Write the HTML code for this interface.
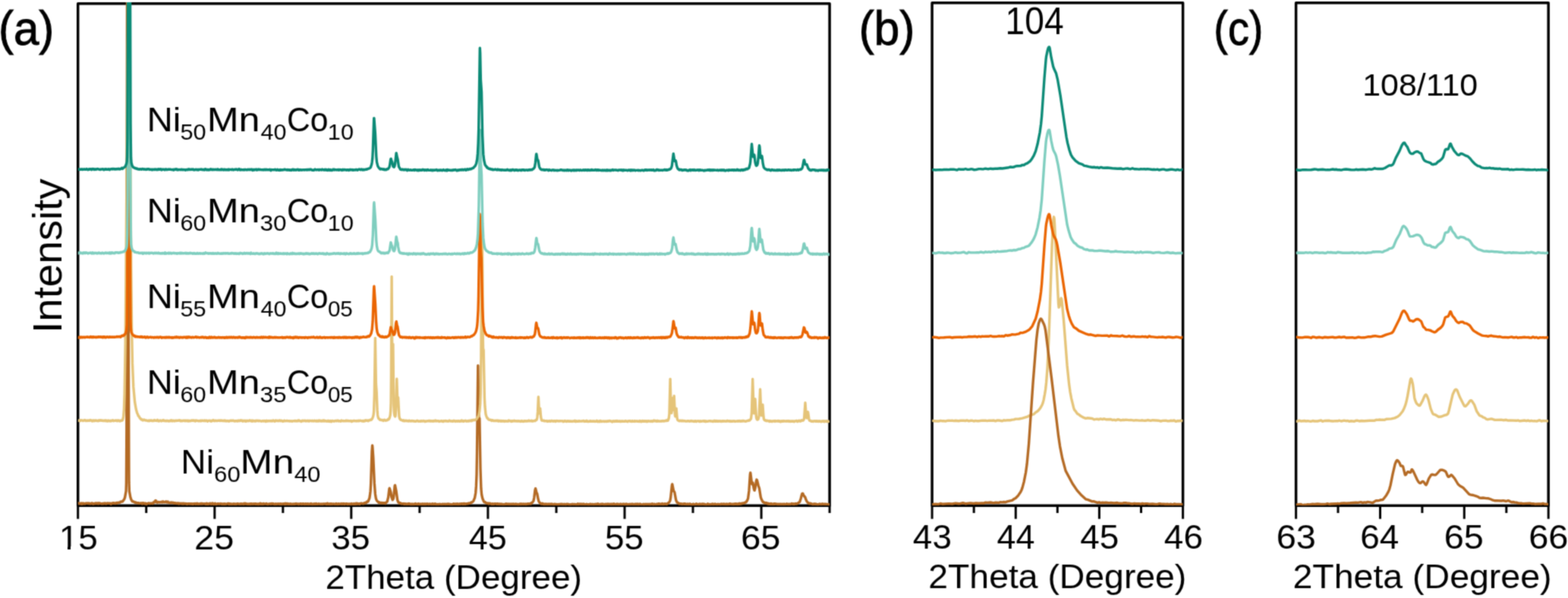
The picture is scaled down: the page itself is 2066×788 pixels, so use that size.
<!DOCTYPE html>
<html><head><meta charset="utf-8"><title>XRD patterns</title>
<style>
html,body{margin:0;padding:0;background:#fff;}
body{width:2066px;height:788px;overflow:hidden;}
svg{display:block;}
text{font-family:"Liberation Sans",Arial,sans-serif;fill:#000;}
</style></head><body>
<svg width="2066" height="788" viewBox="0 0 2066 788">
<defs><filter id="soft" x="0" y="0" width="2066" height="788" filterUnits="userSpaceOnUse" color-interpolation-filters="sRGB"><feConvolveMatrix order="5" kernelMatrix="0.00003 0.00101 0.00331 0.00101 0.00003 0.00101 0.03529 0.11525 0.03529 0.00101 0.00331 0.11525 0.37636 0.11525 0.00331 0.00101 0.03529 0.11525 0.03529 0.00101 0.00003 0.00101 0.00331 0.00101 0.00003" edgeMode="duplicate"/></filter></defs>
<g filter="url(#soft)">
<rect width="2066" height="788" fill="#fff"/>
<defs>
<clipPath id="ca"><rect x="102.7" y="3.1" width="990.4" height="663.2"/></clipPath>
<clipPath id="cb"><rect x="1228.1" y="2.2" width="330.5" height="664.1"/></clipPath>
<clipPath id="cc"><rect x="1707.6" y="2.2" width="332.6" height="664.1"/></clipPath>
</defs>
<g fill="none" stroke="#000" stroke-width="3.5" stroke-linejoin="round"><rect x="102.7" y="4.7" width="990.4" height="661.6"/><rect x="1228.1" y="3.8" width="330.5" height="662.5"/><rect x="1707.6" y="3.8" width="332.6" height="662.5"/></g>
<path fill="none" stroke="#000" stroke-width="3" d="M102.7 666.3V683.8M192.7 666.3V675.9M282.8 666.3V683.8M372.8 666.3V675.9M462.8 666.3V683.8M552.9 666.3V675.9M642.9 666.3V683.8M733.0 666.3V675.9M823.0 666.3V683.8M913.0 666.3V675.9M1003.1 666.3V683.8M1093.1 666.3V675.9M1228.1 666.3V683.8M1707.6 666.3V683.8M1283.2 666.3V675.9M1763.0 666.3V675.9M1338.3 666.3V683.8M1818.5 666.3V683.8M1393.3 666.3V675.9M1873.9 666.3V675.9M1448.4 666.3V683.8M1929.3 666.3V683.8M1503.5 666.3V675.9M1984.8 666.3V675.9M1558.6 666.3V683.8M2040.2 666.3V683.8"/>
<g clip-path="url(#ca)" fill="none" stroke-width="3.4" stroke-linejoin="round">
<path stroke="#b46a24" d="M102.7 663.3l.5 .1 .2-.3 .4 .2 .2-.2 .3 .7 .2-.2 .4 .2 .1-.3 .6-.1 .7 .5 .9-.8 .7 1.1 .7-1 .8 .2 .3-.1 .4 .4 .3-.2 1.7 .3 .9-.7 .5 .2 1.4-.1 .2-.2 .7 .3 .2 .3 .4-.2 .3 .2 .4-.5 .2 .2 .5-.1 .2 .3 .7 .4 .7-.1 1.1-.8 .4 .4 .3-.3 .4 .3 .4-.1 .3 .7 .6 .1 .7-.2 .5-.5 .9 .3 .9-.7 .6 .4 .1-.1 .2 .2 .2-.3 .7 .4 .4-.5 .5 .2 .2 .3 .4-.4 .3 .2 .2-.3 .6 .6 .1-.4 .2 .2 .7-.5 .8 .4 .9 0 .3 .4 .6 .1 .3-.2 .9 .2 .2-.4 .5-.2 .4 .4 .9-.4 .7 .3 .4-.1 .3-.6 .9 .8 .9 0 .9-.8 .8 .5 .7-.3 .5 .3 .6-.3 .9 .5 .7-.3 .7 .8 .9-.9 .9 .3 .7-.6 .2 .3 .5 0 .8-.4 1.6 .8 .2-.4 .9 0 .5-.7 .7 .7 .7-.8 .4 .2 .9-.4 1.1 .2 .5-.3 .4 .1 .9-1.1 .3 .4 .9-.5 .4 .1 .2-.3 .2 .2 .7-.2 2-2.7 1-2.7 1.5-8.3 .3-10.8 .4-69.4 .7-582.2 1.3 0 .7 511.1 .4 120.8 .1 19.3 .4 11.3 1.3 7.2 1.2 4 1.5 2.3 .5 .2 .5-.2 1.7 1.1 .7-.2 .5 .9 .4 .1 .5-.5 1.1 .8 .7-.3 .4 .3 .4-.1 .1 .2 .6-.2 .2 .3 .1-.3 .8 .7 .9-.3 .7 .2 .2-.3 .5 .2 .2-.4 .5 .2 .7 .8 .6-1 .2 .1 .3-.3 .4 .5 .3-.1 .2 .4 1.3 .2 .7-.6 1.3 1.1 .5-.3 .4-.4 .7 .3 1.6-.8 .9 .2 .7 .5 1.5-.7 .5 .4 .5-.1 .4 .3 .7-.5 .7 .3 .4-1.4 .7 .2 .4-.6 .3 0 .2-.6 .4-.1 .3-.9 .6-.5 .3 .1 .2 2.2 .9-.2 .7 .6 .9-.9 .9 .7 .9-.4 .8 .1 .1 .2 .6-.3 .5 .3 .6-.1 .3-.6 .4 .5 .3-.3 .2 .5 1.1-1 .7 .8 1.1-.2 .2 .3 .2-.2 1 .1 .2-.5 .2 .2 .5-.6 .8 1.2 .7 0 .2-.3 .5-.2 .2-.4 .9 1.3 .9-.3 1.1 .7 .3 0 .9-.8 .6 0 .7 .6 .7-.1 .2-.3 .4 .3 .3-.2 1.3 1 .3-.5 .4 .3 .4-.3 .1 .6 .9-.5 1.1 .6 .6-.1 .3-.5 .6 0 .9 .9 .7-.4 .2-.3 .1 .4 .6 0 .2 .3 .1-.3 1.1 .1 .6-.3 .9 .8 .3-.1 .6-.7 1 .7 .6-.8 .3 0 .8 .7 1.2-.4 .6 .4 .1-.2 .8 .1 .7 .6 1.1-.7 .5 .2 .9-.1 .2 .2 .3-.4 .6 0 .7 .5 .4-.3 .1 .2 .2-.3 .4 .2 .3-.2 .9 .6 .8-.5 .5 .5 .9-.6 .4 .2 .3-.3 .6 .2 .5-.4 .4 .2 .3 .7 .7-.6 .6 .3 .5-.6 .9 .7 .2-.3 .4 .4 .3-.2 .9 .2 .7-.3 .4 .2 .9-.7 .7 .6 .6 0 .1-.4 .6 .4 .2-.5 .1 .3 .6-.1 .2 .2 2.3-.3 .2 .3 1.1 .4 .9-.9 .3 .8 .6 0 .3-.6 .6 .3 .1-.2 .6 .6 1.1-.8 .5 .5 .4-.1 .5-.7 .9 1 .6 .1 .5-.9 .4 .1 .1-.3 .4 .5 .4-.6 .9 1.2 .3 .2 .9-.8 .4 .3 .7-.8 .9 1.2 .9-.3 .4 .2 .7-.5 .7 0 .4-.2 1.4 .6 1.6-.7 .9 .7 .9-.5 .7 .7 .4-.3 .7 .3 .6-.6 .3 .1 .6 .7 .3 .1 .6-.9 .9 .4 .3-.1 .4 .2 1.4-.6 .7 .3 .4-.5 .5-.1 .4 .6 .7 .6 .6-.9 .3-.1 .7 .7 .6-.3 .7 .5 .9-.3 .4 .2 1.4-.7 .9 .7 .9-.5 .5 0 .2 .5 .6 .2 .3-.5 .9-.2 .2-.2 .5 .4 1.1-.3 1.8 .6 .9-.5 .2 .4 .4-.1 .7-.5 .9 .5 .9-.3 .9 .2 .3 .3 .9-1 .8 .7 .3 0 .4-.6 .3 .3 .2-.3 .6 .5 .7 .2 .2-.2 .3 .3 .8-.3 .7 .4 .9-.3 .3 .4 .6-.2 .5-.5 .6 .9 .5-.2 .5-.6 .2 .2 .2-.4 .5 .1 .6 .5 .5-.3 .4 .2 .7-.2 .2-.3 .7 .5 .4-.1 .5-.5 .4 0 .3 .6 .6-.1 .1-.3 .4 .5 1.6-.4 .6 .6 .1-.1 .6 .4 .9-1.1 .2 .2 .3-.1 .2 .4 .7-.4 .2-.5 .9 1.1 .5-.6 .4 0 .5 .6 .6 .2 .5-.4 .2 .1 .5-.8 1.1 .6 .7-.2 1.5 .2 .5-.1 .2-.4 .5 .3 .4 .6 .5 .2 .6-.5 .7 .1 .7-.4 .6 .2 .9-.3 .3 .4 .4 0 1.1-.7 .5 .4 .2-.2 .2 .3 .3-.4 .7 .5 .4-.4 .4 .1 .3 .5 .7 .1 .6 .4 .2-.5 .7-.5 1.2 .6 .4-.3 .2 .3 1.4-.6 1.1 .4 .4-.2 .9 .4 .5-.7 .4 .4 .1-.3 .4 .4 .4-.1 .1 .3 .6-.4 .9 .3 1.1-.5 .1 .3 .8 0 .5-.4 .7 .9 .8-1.2 .7 1.1 1.2-.9 .4 .3 .2-.3 .9 .8 .7-.6 .4 .4 1 .3 .9-.8 1.3 .9 .2-.4 .3 .1 .6 .4 .9-.8 .7 .4 .7-.4 .6 .5 .5-.5 .9 .3 .9-.6 .7 .5 1.6-.2 .2 .3 .4-.2 .3 .5 .2-.3 .4 .6 .9-.8 .7 .1 .4-.4 .1 .1 .4-.1 .4 .7 .3 .1 .9-.5 .7-.2 .2 .3 .4-.3 .9 .5 .2-.3 .1 .2 .6 0 .5 .4 .7-.9 .9 .6 .2-.3 .4 0 .9 .3 1.1-.6 .9 1 .9-.6 .3 .1 .9-.4 .2 .5 .4-.3 .3 .1 .4-.5 .2 .3 .5 .2 .2 .5 .2-.2 .5 .4 .5-.5 .6 0 .2-.3 .1 .4 1.3-.7 .7 .9 .7-.3 .8-.8 1 .9 .9-.3 .6 .2 .9-.5 .7 .3 .9 .1 .5 .4 1.1-.6 .2 .3 .4 0 .1-.2 .8 0 .3 .5 .4-.5 .2 .1 .5-.3 1.8 .1 .9-.2 .6 .1 .7 .8 1.2-1.5 1.3 1.4 .2 0 1.2-.8 .9 1 .8-1 .1 .3 .6 .2 .3-.6 1.1 .8 1.5-.6 1.4 .5 .4-.2 .3 .2 .4-.1 .2 .2 1-.9 1.1 1 .7 .2 .4-.6 .2 .1 .3-.4 .4 .4 .9-.4 .5 .4 1.1-.4 .9-.1 .2-.2 .9 .9 .4-.6 .7 0 .3-.3 .4 .3 .2-.2 .7 .1 .5 .9 .8-.7 .5 .1 .9-.4 1.1 .1 .2 .4 .9 .1 .3 .4 .9-.8 .4 .2 .5-.1 .6 .4 .9-.5 .5 .5 .9-.8 1.3 .8 .9-.4 .1 .3 .6-.2 .3-.5 .9 .8 .8 .1 .9-1.3 .9 1 .7-.8 .7 .6 2-.2 .5 .6 .4-.1 .5-.7 1.3-.5 .2 .2 .3-.1 .9 .4 1.3 .1 .7-.6 .6 .3 .9-.9 .5 .1 .2-.2 .2 .3 .5 .1 .7-1 .4-.1 .2-.6 .1 .2 .8-.1 .5-.4 1.8-4.3 .5-2.9 .8-6.4 .5-8.5 1.4-43.8 .6-7.9 .3 2.7 .9 13.1 1.5 33.6 1.1 14.5 .9 5.6 .7 2.1 1.2 2 1.3 .8 .4 .8 .1-.2 .6 .2 .2-.3 .5 .7 .2-.3 .7 .2 .4 .5 .9-.4 .3 .3 .2-.2 .4 .2 .1-.3 .9 .6 .2-.4 .9 .1 .2-.3 1.3 .2 .7 .7 .9-1.4 .5 .1 .7-1.1 .4-.1 1.4-5.8 1.3-11.1 .4-.7 1.6 5.2 .9 6.2 1.4 3.9 .6-.6 .5-1.4 .5-2.8 1.3-13.5 .4-1 1.6 8 1.6 11.5 1.1 2.9 .7 .2 .9 1.4 .2-.5 .5 0 .2-.2 .7 .5 .2 .5 .7 .2 .2-.3 .2 .3 .5-.3 .2 .1 .4-.1 .9 .4 .7-.1 .2-.3 .3 .6 .4-.1 .2 .2 .3-.3 .4 .1 .5-.4 1.3 .8 .4-.3 .7-.2 .7 .1 .2 .2 .7-.7 .4 .3 .3-.2 .2 .2 .2-.3 .3 0 1.1 1.4 .6 0 1-.9 .9 .9 .4-.6 .2 .3 .3-.4 .8-.1 .5 .5 .2-.1 .3 .1 1.3-1.1 .7 .8 1.3-.1 .2 .4 .1-.2 .6 .1 .2-.6 .3 .4 .4-.4 .2 .3 .3-.6 1.1 .9 .4-.4 .1 .3 1.3-.5 .5 .4 .9-.2 .4 .6 .9-1 .2 .7 .9-.2 .7 .6 .9-1.1 .2 .5 .7 .4 .2-.4 .5 .4 .2-.4 .7-.5 .4 .2 .9-.1 .7 .8 .5 .1 .9-.8 .9 .4 .8-.3 1.2 .6 .4-.3 .2 .1 .5-.7 .4 0 1 .9 1.8-.9 .6 .9 .4 .1 .1-.4 .6-.2 .7 .9 1.1-.7 .9 .5 .3-.5 .8 .3 .5-.2 .5 .1 .4-.3 1.1 .4 .9-.1 .3 .3 .2-.4 .2 .2 .2-.4 1.2 .2 1.8-.4 .8 .7 .3 0 .6-.5 .5 .3 .7-.3 .4 .3 .7-.6 1.8 .5 .2-.3 .5 0 .7 .7 .9-.5 1.8 .6 .9-.5 .4-.4 .2 .1 .3-.4 .9 .6 .4-.1 .2-.3 .9 .5 .5-.4 .6-.1 .9 .5 .1-.3 .4 0 .2-.3 .9 .7 .3-.4 .8 0 .3 .3 .4-.5 .3 .4 .2-.4 .4 .2 .3-.3 .4 .3 1.3-.6 1.8 .7 .3-.5 .2 .2 .4-.4 .3 .2 .6-.4 .9 1.1 .7-.7 .9 .2 .9-.4 .9 .2 .9-.6 .2 .3 .1-.3 .2 .3 .6-.4 .7 .2 .7-.1 .7-.6 .2-.4 .4 .2 .1-.3 .4 .1 .5-.2 1.7-1.6 .5-.7 1.6-3.9 1.1-6.3 .7-9.1 .6-14.8 .5-29.4 1.3-114.6 1.1 64.5 .3 6.8 .4-1.7 .2 0 .1 3.6 1.1 62.7 .9 26.2 .7 7.7 .8 3.9 .7 2.4 1.6 3.6 .2 0 .5 .6 1.1-.2 1.3 1.6 .1-.1 .6 .2 .7-.4 1.4 .9 .2-.4 .4 .3 .3-.4 .2 .3 .2-.3 .7-.1 .2 .3 .7 .4 .4-.3 .9 .8 .7-.4 .2 .1 .3-.4 .2 .4 .4-.3 1.1 .5 1.6-.8 .9 .4 .9 0 .3 .3 .8 0 .1-.5 .4 0 .4 .1 .1 .5 .9-.5 .9 .7 .2-.3 .2 .1 .5-.5 1.1 .8 .4-.5 .7 .2 .5-.2 .9 .9 .9-.7 .8 .4 .9-.2 .5-.4 .7 .4 .6-.8 .5 .5 .7 0 .2-.4 .4 .3 .3-.1 .9 .4 .9-.4 .2 .3 .2-.2 .3 .3 .4-.1 .2 .4 1.1-.8 .2 .3 1-.1 .6 .3 .2-.3 .5 .2 .2-.3 .3 .2 .2-.2 .6 .4 1.2-.3 .9 .5 .2-.4 .2 .2 .5-.4 1.1 .7 .7-.5 .4 .1 .5 .8 .9-.5 .2 .2 .4-.4 .1 .2 .4-.7 .2 .3 .5 0 .2 .3 .9-.7 .5 .8 1.1-.5 .9 .1 .2-.2 .2 .3 .2-.3 .5 .5 1.4-.5 .2 .2 .2-.3 .7 .4 .2 .4 .2-.3 .2 .2 .5-.5 .2 .1 .7-.4 .9 .3 .5-.4 .2 .3 .7 0 1.7-.6 .1 .4 .4 .2 .2-.3 .2 .1 .5-1.1 .2 .3 .7-.4 1.8-2.2 .4-1.1 .7-3.7 1.2-9.9 .6-2.1 1.2 4.8 .9 1.9 1.5 7.8 .7 2.4 .9 1.4 .5 .6 .9 .5 .6 .9 .9-.3 .3 .4 .4-.5 .2-.1 .2 .2 .1-.3 .6 .7 .2-.1 .5 .5 .4-.2 .3 .5 .2-.3 .4 .4 .3-.5 .7-.5 1.1 .9 1.1-.7 .9 .7 .2-.4 .7 .1 .6-.5 .7 .5 1.1 .2 .3-.3 .2 .3 .2-.3 .5 .1 .2-.4 .2 .3 .7 .2 .4-.3 .5 .4 .2-.3 .2 .5 .1-.2 .2 .3 .9-.4 .4 .4 .5-.8 .6-.1 .3 .5 2.2-.1 .2 .3 .5-.1 .9 .4 .5-.6 .8 .4 .3-.4 .4 .3 .5-.1 .4-.6 .3 0 .9 .6 .9-.5 .2 .2 .2-.2 .5 .7 .2-.4 .2 .3 .5-.2 .2 .4 1.5-.7 .5 .6 1.1 .5 .9-1.1 1.2 .1 .4-.2 .9 .2 .2 .3 .5 0 .2 .4 .7 .1 .6-.5 .3 .4 .2-.1 .2 .4 1.4-1 1.1 .2 .4-.3 1 .6 .9-.5 .6 0 .7 .1 .4 .4 .5 .1 .5-.3 .2 .4 .4-.2 .3 .2 1.1-1.2 .9 1.2 1.1-1 .4 .5 .3-.2 .9 .2 .6-.5 .9 .6 1.4-.5 .5 .6 .9-.8 .6 .7 1.2-.1 .4 .3 .6-.1 1-.5 .6 .3 .5 0 .4 .3 .2-.1 .3 .3 .6-.4 .9 .5 .3-.6 1.1-.4 .2 .2 .3-.1 .9 .7 .6-.5 .7 .1 .5-.2 .9 .7 1.1-.6 .6 .3 .5 0 .4-.5 1.2 .4 .9-.6 .7 .5 .4-.6 .2 .2 .2-.3 .3 .5 1.5 .6 .3-.2 .2 .2 .4-.6 1.2 .2 .2-.4 .4 .4 .3-.1 .9-.6 .4 .4 .9 .1 .3 .6 .6-.5 .9 .6 .3-.5 1.1-.4 .9 .7 .6-.7 .3 .3 .2-.2 .5 .1 .2-.3 1.3 .7 .9-.5 .5 .2 .6-.2 1 .7 .4-.6 .2 .4 .3-.3 .4 .2 .2-.3 .3-.1 .9 .6 .9-1.1 .6 .6 .7 .3 .2-.2 .3 .3 .8 .1 1.4-.9 .4 .7 .5 .2 .7-.6 .7 .7 .8-.6 .5 .3 1.3-.6 .3 .5 .4-.1 .7 .4 1.8-.9 .9 .3 .4 .3 .3-.3 .6 .1 .3 .5 .6-.6 .3 0 .6 .5 .5-.7 .9 .9 .4-.5 .5 0 .4 .3 .5 .1 .9-.6 .9 .7 .9-.7 1.5 .2 .3-.3 .4 .2 .2-.3 .3 .6 .6 .2 .5-.4 .7 .3 .2-.3 .9 .2 .5-.5 .4 .3 .2-.2 .3 .4 .4-.2 .2 .3 .3-.3 .2 .3 .9-.7 .7 .8 .4-.4 .2 .2 .3-.2 .4 .5 1.1-.9 .3 .4 .8-.2 .9 .6 1.9-.2 .8-.4 .9 1 .3-.5 1.1-.5 .5 .1 .4 .3 .7-.3 .6 .3 .1-.3 .4 .2 .4-.3 .9 .3 .9-.2 .1 .3 .4-.3 .7 .7 .7-.9 .9 .5 .4-.5 .2 .3 .3-.1 .8-.6 .9 1.2 .1-.1 .2 .3 .2-.2 .2 .2 .5-.7 .2 .1 .2-.5 .7 0 .5 .6 .8 .3 1.8-.6 .1-.3 .8 .2 .1 .3 .2-.3 .2 .2 .4 0 .5-.8 .4-.1 .3 .7 1.3-.2 .7 .4 .4-.2 .7 0 .7-.8 .7 1.3 .6-.6 .2 .2 .9-.5 .3 .3 .4-.2 .2 .3 .9-.6 .7 .6 .5-.2 .6 .3 .5-.6 .2 .2 .9-1.1 .3 .2 .8-.6 1.2-1.7 .6-1.4 .7-4 1.6-15.4 .2-1.3 .3-.6 1.7 8.6 .5 1.2 .4 0 .5 1.3 1.8 9.8 1.4 3.1 .8 .5 .1-.4 1.7 1.7 .7-.4 .7 .3 .2 .3 1.2-.4 .4 .5 .2-.2 .9 .4 .9-.4 .9 .2 .5-.4 .7 .1 .2 .3 .4-.3 .3 .3 .2-.3 .6 .5 .1-.2 .2 .3 .6 0 .1 .2 .9-.7 1.1 .3 .4 .4 .3-.2 .2 .2 .9-.6 .2 .2 .2-.3 .3 0 .4 .1 .5 .8 .6 .2 .2-.4 .1 .2 .2-.2 .9 .3 .2-.1 .2 .2 .9-1 .7 .8 1.1 0 .7-.4 .7 .2 .9-.9 .4 .6 .2-.2 .9 .4 .7-.1 1.1 .5 .9-1 .7 .7 1.1-.4 .2 .5 .3 0 1.3-.7 .3 .4 1.1-.4 .6 .8 .5 0 .4-.7 .7 .5 .3 .7 .6 0 .3-.5 .6 .1 .2 .3 .7 0 .9-1.4 .5 .4 .2-.1 .2 .4 .2-.1 .5 .6 .2-.3 .3 .1 .2-.3 .9 .5 .7-.7 1.3 0 .2 .2 .5-.6 .2 .5 .5-.3 .2 .5 .2-.3 .5 .5 .9-.6 1.1 .2 .2-.4 .9 .4 .5-.1 .8 .5 .9-.4 .1 .2 .2-.3 2 0 .7 .2 .9 .5 .9-1.1 .7 .4 1.3-.3 .7 .4 .6-.6 1.2 .7 .2-.3 .2 .4 .7-.5 .7 .6 .9-.7 .2 .5 .5 .2 .4-.4 .2 .2 1.4-.3 .7 .3 .6-.9 .2 .3 .1-.1 .4 .3 .4-.2 1 0 .6 .5 1.4-.1 .4-.3 .5 .8 .4 0 .5-.7 .4 .2 .5-.2 .4-.4 .5 0 .4 .4 .2-.2 .3 .6 .4-.6 .2 .3 .2-.2 .9 .5 .3-.6 .2 .4 .5-.4 .2 .3 .2-.2 .2 .2 .9-.9 .7 .9 .9-.7 .4 .1 .1-.3 .8 .1 .1 .4 .4-.5 .5-.2 .4 .3 .7-.6 1.5 .2 .5-.6 .7-.4 .2 .1 .4-.5 .3 .2 .6-.5 .7-1.3 .3-.1 1.3-3.1 1.3-10 1.4-21.4 .4-2.6 .1 0 1.7 13.9 .5 1.2 .9-1.9 1.3 7.5 .7 2.5 .3 .1 .9-3.4 1.3-8.8 .5-1.9 .2 .1 .4 .6 1.8 7.4 1.1 3.1 1.9 11.6 .8 2.6 1.8 3.6 .9 .7 .7 0 .3 .5 .9 .1 .8 .8 1-.7 .6 .9 .2-.3 .1 .3 .4-.4 .7 .9 .4 .1 .5-.6 .7 .5 .2 .4 .7 0 .6-.5 .9 .6 .5-.8 .2 .3 .4-.2 .3 .5 .2-.2 1.3 .6 .7-.3 .5-.6 .8 .6 .3-.1 .2-.4 .7 .4 .7-.2 1.1 .2 .2 .4 .4 .1 .5-.4 .5 .4 .9-.5 .2 .3 .7 .5 .2-.3 .4 .1 .3-.6 .4 .2 .2-.2 .3 .5 .4-.5 .9 .7 .7-.6 .4 .2 .5-.3 .9 .8 .9-.9 .9 .8 .6-.1 .3-.4 .9 0 .6-.5 .3 .5 .9-.2 .6 .6 .1-.3 .2 .1 .6-.4 .7-.1 .3 .5 .2-.1 .4 .2 1.4-.5 .7-.7 .9 .6 .4 .1 .9-.4 .4 .5 .3-.1 .2 .2 .2-.2 .9 .1 .2-.4 .7-.4 1.2 .6 .9-.5 .2 .2 .2-.3 .9-.3 .7-.9 .2 .1 1.3-1 1.6-5 1.1-4.6 .5-1.2 .7-.4 .4 .2 .7 2.4 .9 .8 .4 .7 .3 .1 .7 1 .6 2.1 1.4 3.1 1.1 1.2 .2 .5 .5 .3 .2 .4 .2-.4 .9 .9 .5 0 .2 .3 .5-.6 .2 .3 .2-.2 .5 .4 .6-.2 .9 .8 .5-.2 .9 .7 .6-.3 .2 .1 .9-.8 .9 .7 .7-.6 .5 .2 .4 .7 .7 .1 .4-.4 .9 .6 .1-.3 1.1-.1 .4-.4 .9-.3 .9 .4 .2-.1 .9 .5 1-.2 .6-.7 .7 .5 .2-.1 1.4-.1 .7 .4 .8-.3 .9 .4 .1-.4 .4 .4 .4-.3 .3 .2 .4-.2 .2 .3 1-.1 .9 .6 .6-.6 .2 .1 .1-.3 .4-.1"/>
<path stroke="#e5c479" d="M102.7 554.3l.7 .1 .7-.5 .6 .2 .3 .6 .6-.1 .2-.5 .5-.3 .4 .3 .3-.4 .2 .2 1.3 0 .9 .7 .7-.5 .9 0 .3-.5 .2 .2 .9-.1 .7 .9 .8-.4 1 .3 .8-.4 .1 .3 .6 0 .7-.5 .7 .5 1.1-1 .4 .3 .3 0 .2 .3 .9 0 .7 .9 .4 .1 .9-1.1 .5 .1 .2 .4 .7 .3 .2-.4 .7-.4 .6 .4 .9-.3 .1 .4 .4-.2 .7 .1 .2 .3 .9-.1 .4 .3 .3-.6 .2 .3 .4-.4 .3 .3 .4-.6 .2 .3 .7 .1 1.1-.6 1.1 .8 .9-.5 .5 .7 .7 0 .2-.3 1.4 .2 .6-.6 .9 .4 .2 .3 .5-.3 .2 .4 .2-.4 .3 .3 .4-.4 .9 .8 .9-.9 .5 .6 .9-.2 .9 .4 .2-.4 .4 .2 .3-.3 .4 .4 .5-.3 .2 .2 1.1-.9 .3 .4 .4-.3 .5 .2 .4 .6 1.6-.4 .9 .1 .2-.5 .7 0 .2 .5 .2-.2 .9 .5 .5-.6 .2 .1 .4-.2 .3 .5 .7 0 .2-.4 .2 .1 .9 .8 .7-.2 .7-.8 .6 .4 .3 0 .6-.4 .3 .1 .4-.4 .7-2.1 .6-3.4 .7-8.9 .7-20.7 1.1-66.9 2.7-348.9 .5-46.6 .6-16.6 .1-54.9 1.3 0 2.3 367.1 .9 81.6 .9 45.5 1.3 31 1.8 19.7 1.6 9.4 1.5 5.4 .9 1.6 .7 2.1 .9 .6 1.1 2.3 1.1 .7 .5 1 .5 .3 .8-.2 .9 1.1 .5-.4 .4 .2 .7-.3 .2-.3 1.8 .9 .9-.2 1 .4 .2-.1 .9 .6 .7-.5 .4 .1 .2-.3 .7 .8 .9-.9 .5 .4 .9-.3 .2 .2 .2-.3 .4 .4 .3-.1 .4 .5 .3-.3 .4 .1 .2-.3 .5 0 .6 .3 .9-.9 .9 .6 .5-.2 .9 .3 .5-.1 .4 .2 .9-1 1.3 1.6 .3 0 .6-.5 .5-.1 .2 .2 .5-.6 .4 0 1.4 .9 .9-.7 .2 .2 .2-.3 .3 .2 .9-.7 .9 .9 .4-.3 .7 .6 .9-.4 1.1 .5 .9-.7 .9 .4 .2-.1 .3 .4 .9 0 .2 .2 .6-.3 .1-.4 .9 .4 .4-.1 .9-1 .5 .3 .4 .8 .2-.2 .4 .3 .3-.5 .9-.3 .4 .4 .2-.2 .5 .2 .5 .4 .8-.7 .9 0 .5 .4 1.1-.5 .5 .3 .7-.3 .4 .2 .4-.2 .1 .1 .4-.3 .4 .2 .1-.3 .6 .4 .2-.2 .1 .3 .4-.2 .4 .6 .3-.2 .2 .2 .4-.3 .5 .4 .9-.5 .5 .4 1.7-.7 .5 .1 .9 .7 1.3-.8 .7 .6 .5-.2 .2 .3 .9-.7 .9 1 .7-.1 .6-.5 .1 .2 .4-.2 .2 .3 .5 0 .6-.3 .3 .1 .7-.5 1.5 .3 .2-.3 .3 .1 .2-.3 .5 .7 1.1-.5 .2 .2 .4-.1 .3 .7 .2-.1 .2 .3 .9-1.1 1.8 .6 .5-.1 .6 .3 .1-.2 .8 .3 .9-.3 .1 .2 .8-.6 .5 .2 .4 .6 .3-.1 .6-.6 .5 .2 .2-.2 .3 0 .8 .4 .7-.4 .5 .4 1.1-.7 .9 .9 .7-.6 .4 .1 .3-.2 .8 .4 .5 .7 .2-.3 .2 .2 .3-.3 .2-.4 2.2-.3 .7 .8 .5-.5 .4 0 .5 .7 .2-.3 .4 .1 .3-.7 .8 .2 .7-.8 .7 1 .9-.1 .4 .2 .3-.5 .7-.1 1.8 .6 1.7-.6 .9 .3 .3-.4 1.1 .5 .2-.3 .2 .3 .5-.4 .2 .2 .2-.2 .3 .1 .2-.1 .2 .2 .5-.1 .2 .4 1.1-.2 .2 .2 .9-.4 .9 .5 .5-.7 .9 .7 .2-.3 .5 .5 .9-.5 .9 .5 1.1-.5 .4 .5 .1-.2 .6 .5 2-1.1 .7 .1 .2 .2 .1-.2 .4 .3 .4-.3 .3 .4 .9-.5 .6 .2 .1-.1 .9 .6 .4-.3 .7 .6 .7-.5 .6 .1 .2-.3 .7 0 .2 .5 1.2 .1 .9-.9 .7 .5 .8 .1 .3-.4 .4 .1 .2-.4 .3 .6 .9-.8 .4 .5 .2-.3 .3 .4 .4-.3 .2 .2 .3-.1 .6 .9 .9-.8 .7 .6 .9-.3 .2-.3 .3-.1 .9 1.1 .6-.2 .7-.9 .9 .5 .4-.2 .1 .2 1.3-.3 .2 .3 1.1-.9 .9 .8 1 .4 .9-.9 .8 1 1-.9 .2 .5 .4 .1 .7-.3 .9 .6 .4-.4 .3 .1 .2-.3 .4 .5 .5-.8 .9 .3 1.3-.2 .7 .5 .3-.4 .9 .3 .8-.2 1.8 .8 .7-.6 .5 .2 .9-.4 .4 .5 2-.6 .5 .7 .7 .3 .2-.4 1.1-.7 .7 .7 .5 0 .2-.2 .7-.2 .2 .2 .9-.4 .6 .4 .5 .1 .5-.4 .2 .2 .6-.2 .1 .4 .9-.5 .9 .5 .8-.8 .1 .3 .4-.3 .4 .5 .7-.1 .7 .7 .5-.7 .2 .2 .7-.3 .2-.4 .6 .5 1.2 0 .2-.3 .9 .6 1.3-.4 .3-.5 .6 .2 .5 .6 .5 .1 .6-.5 .3 .2 .2-.2 1.3 .8 .3-.1 .2 .3 .4-.4 .7 .2 .7-.9 2 .6 1.6-.5 .2 .2 1.6 .4 .9-.3 .9 .5 .2-.3 .6 .3 .3-.1 .6-.4 .5 .3 .2-.2 .2 .3 .3-.1 .4 .4 1.6-.7 1.1 0 .5 .3 .7-.6 .6 .2 .2 .3 .9-.2 .3 .4 .6-.1 .5-.6 .5 .4 .2-.2 .2 .3 .9-.9 1.1 .9 1.1-.2 .7 .5 .2 .4 1.4-1.2 .9 .5 .7-.5 .9 .2 1.1-.3 .7 .7 .6-.4 1 .3 .8-.2 .3-.4 .9 .7 .6-.3 .5 .5 .9-.8 .4 .3 1.4-.2 .5 .3 .6 0 .3-.3 .2 .4 .9-.4 .9 .5 .6-.5 .3-.1 .6 .4 .1-.3 1.3 .7 .9-.9 .9 .9 .5-.2 .2-.4 .4 .4 .7 .1 .5-1 .8 .7 .5-.1 .2-.4 .3 .5 .2-.2 .4 .4 .3-.4 .4 .3 .2-.2 .3 .4 1-.3 .1-.4 .6 0 .3 .6 .8-.5 .1-.4 .2 .3 .6 .1 .1 .6 .9-.6 .4 .4 .4-.3 .9 .8 .7-.5 .3 .2 .8-.7 .9 1 .3-.6 .4 .1 .2-.3 .7 .3 .3 .6 .2-.3 .2 .2 .5-.8 .9 1.1 .9-1.2 2.4 .8 1.4-.8 .4 .2 .9-.2 .5 .6 .7-.7 .8 .2 .5-.4 .7 .8 .2-.2 2-.1 .9 .7 .9-1.2 1.6 .7 .9-.3 .9 .4 .9-.2 .9 .1 .9-.7 1.1 .7 .9-.6 .7 .4 .7 .2 .4-.3 .9 .4 1.8-.4 .9 1 .7-.7 .5 .3 .8-.6 .9 .1 .5-.2 .2 .2 .2-.1 .5 .3 .7-.1 .6 .2 .7-.5 .7 .6 1.6-.8 .9 .7 .7-.5 1.1-.3 1.1 .5 .2-.2 1.3 .7 .3-.5 .6-.2 .5 .7 .4 .1 .3-.6 .6-.3 .3 .4 .2-.2 .2 .2 .3-.1 .2-.3 .2 .3 .4-.7 .3 .4 .4-.2 .2 .3 1.4-.4 1.1 .7 .2-.6 .5 0 .2-.2 .2 .2 .5-.3 .5 .1 .9-.9 .6 .3 .2-.3 .3 .2 1.3-1.7 1.1-3 .5-2.6 .4-4.1 .7-20.8 1.1-75.6 1 60.3 .8 10.8 .9 23.9 .5 6.3 .4 2.2 .7 2.3 .2-.1 .3 .7 .4 .2 .9 1.2 .5 .1 .4-.3 .3 .5 .9 0 .6 .3 .9-.4 1.1 1 .5-1 .7-.1 .2 .4 .5-.2 .4 .3 .2-.2 .3 .5 .4-.1 .2 .2 .9-.6 .3 .1 .4-.3 .2 .2 .2-.5 .3 0 .4-.6 .2 .5 .3-.6 .4 .2 1.1-2 .9-3.5 .5-5.8 .4-10.6 .3-31.7 .7-134.6 .9 138.4 .2 .5 .7-49.9 .9 80.8 .6 10.6 .5 2.8 .6 1.3 .3-.1 .4-1.6 .5-7.2 1.1-40.7 .9 28 .2 1.7 .2-.7 .5-4.6 1.3 24.7 .7 3.2 .9 1.2 .4 0 .1 .5 .9 .1 1.5 .8 .5-.2 .2 .4 .4-.7 .1 0 .2 .5 .2 0 .5 .5 .4-.2 .2 .2 .3 0 .2-.3 .2 .2 1.1-.5 .7 .6 .9-.2 .4 .2 .3-.3 .9 .6 1.1-.8 .5 .5 .2-.1 .2 .2 .5-.2 .8 .5 .9-.6 2.1 .3 .4 .3 .9-.3 .9 .5 .5-.2 .6 .2 1.4-.9 .4 .2 .3-.2 .2 .3 .4-.1 .3 .5 .9-.1 .4 .3 .9-.4 .7 .3 .4-.2 .1 .3 .4-.5 .5-.2 .2 .4 .7-.2 .8 .3 .7-.6 .3-.1 .6 .4 .9 0 .7 .8 .4 0 .5-.7 .5 .3 .2-.3 .9 .1 .6-.4 .7 .3 .3-.2 .8 .2 .1-.4 .8-.2 1 .8 1.1-.6 .6 .6 1.2-.3 .6 0 .3 .4 .4-.3 .2 .1 .1-.4 .6 .4 .2-.2 .1 .1 .2-.4 .4 .1 .3-.2 .2 .4 .4-.5 .4 .2 .1-.2 .6 .6 .7-.4 .7 .4 .7-.3 .4 .2 .4-.2 .7 .3 .3 .6 2-.7 .2 .2 1.1-.6 .9 .8 .3-.3 .9 .6 .8-.9 .3 .3 .4-.2 .7 .2 .4-.4 .9 .4 .1-.3 .9 .3 .2-.2 .6 .5 1-.3 .4 .3 .5-.1 .9-1 .2 .3 .6 0 .7 .6 .7 .1 .9-.3 .9 .4 .2-.3 .3 .3 .6-.1 .7-.8 .9 .7 .4-.5 .1 .2 .4-.1 .5 .8 1.1-.7 .7 0 .6 .5 .2-.2 .1 .1 .6-.3 .2 .2 .3-.4 .2 .2 .4-.1 .9 .6 .1-.1 .2 .1 .2-.3 .2 .3 .5-.1 .4-.6 1.1-.7 .3 .2 .6 1 .9-.5 .5 .7 .4 .1 1-.9 1.3 0 .2-.2 .5 .2 .6 .8 1.2-.5 .2 .2 .4-.4 .7 .4 .9-.6 .3 .5 .8-.8 .5 .1 .4 .5 .1-.5 .8-.3 .5 .8 .9-1.2 .9 .4 .4-.4 .9-.2 .9 .5 .2-.3 .9-.2 .5-.5 .7 0 .9-1.7 .7-.8 .4-.9 .9-1.1 1.3-6.1 .9-9.8 .5-13.3 .7-47.2 .9-159.4 .2-22.7 .2-1.1 1.1 158.7 .3 13.9 .2 .2 .2-1.1 .2 1.1 .1 6 1.1 57 .6 11.5 1 9.8 .8 2.5 1.2 2.9 .2-.2 .7 .5 .2 .5 .7 .8 1.5 .5 1.2-.2 1.1 1.3 .4-.5 .1 .2 .6-.3 .2 .2 .1-.3 .9 .8 .8-.2 1.9 .2 .2-.2 .6 .1 .1-.1 .6 .3 1.1-.6 .1 .2 .4-.1 .4 .7 .5 .3 .5-1 .4 0 .4 .4 .3-.1 1.1 .8 .4-.6 .1 .3 .4-.4 .4 .3 .1-.2 .4 .5 .7 .1 1.1-.8 1.4 1 .4-.4 .4 0 .1-.3 1.3 .5 1.3-.4 .3 .3 1.1-.1 .2 .2 .7-.5 .2-.6 .9 .6 1.1-.3 1.2 1.1 .6-.2 .2-.5 .5-.3 .4 .6 .1-.2 .4 .2 .2-.4 .7-.1 .2 .2 .2-.3 .3 .2 .4-.4 .9 .8 .9-.5 .9 .5 .3-.4 .9 .4 .8-.6 .7 .6 1.2-.3 1.5 .6 .5-.6 .2 .2 .2-.2 .5 .4 .4-.1 .2-.5 1 .7 .4-.1 .4 .3 .5-.2 .7-.8 .2 .3 .7 .2 .2-.3 .4 0 .1 .3 .4-.3 .5-.1 .4 .4 .7-.3 .4 .4 1.2-.7 .2 .4 .4-.4 .3 .3 .2-.3 .4 .3 .2-.2 .9 .4 .9-.4 .1 .2 .4-.5 .4 .5 .3 0 .2 .4 .5-.5 .9 .4 .6-.1 .5-.5 1.6 .3 .9-1 .6-.2 .3 .1 .6-1.2 .5-2.4 .6-7.1 .9-20 1 21.1 .2 .7 .2 0 .9-6.5 .9 10.7 .7 3.8 .4 1.2 .5 .3 .4-.3 .5 0 1.3 .7 .2-.4 1.8 .6 .7-.2 .7 .3 .4-.4 .9 .9 .7-.6 .7 .4 .4-.3 .2 .2 .5-.3 .2 .1 .3-.4 .8 .4 .1 .4 .6 0 .9-.8 .2 .3 .1-.3 .6 .3 .2-.2 .1 .2 .4-.1 .4 .4 .3-.2 .2 .4 .9-.6 .7 .2 .4-.4 .7 1 .4-.1 .3-.8 .9 .2 .2-.3 .5 0 .2 .3 .4 .1 1.4-.3 .4 .5 .3 0 1.3-.5 2 .3 .9-.3 1.1 1 .1-.5 .2 .3 1.3-.8 .3 .5 .8-.5 .3 .5 .6 .1 .1-.2 .8 .4 .1-.2 .4 .1 .4-.4 .1 .2 .6-.4 .2 .3 .3-.2 .4 .6 .5 0 .2-.4 .7-.1 .2 .3 .9-.3 .5 .3 .9-.3 .2 .3 .9-.1 .2 .3 .4-.5 1 .1 .4-.2 .9 .4 .7-.9 .9 1.3 .9-.8 .4 .4 .2-.2 .1 .2 .8-.2 .9 .4 1-.8 .6 .5 .2-.3 1.6 .4 1.1-.3 .5 .2 2.2-.7 .9 1.1 .1-.3 .6 0 .2-.2 .7 0 .5 .2 .9-.9 .4 .7 .2-.1 .2 .3 .7-.2 .5 .6 .9-.4 1.1 0 .7-.6 .7 .7 .9-.4 .2 .3 1.1 0 .4-.3 .1 .2 .2-.1 .4 .3 .7 .1 .7-.6 .4 .1 .5 .7 .9-.5 .9 .1 .7-.9 .6 .4 .3 .8 .6 .3 .3-.4 .4-.2 .4 .2 .5-.4 .5 .6 .2-.2 .2 .2 .5-1.2 1.8 1.1 .2-.3 .9 0 .6-.3 .9 .4 .7-.1 .3 .3 .4-.5 .2 .2 .3-.1 .2 .2 .6-.4 .9 .7 .3-.3 .6-.2 .1 .2 .8-.6 .9 .6 .7-.3 .3-.4 1.1 .4 .2-.4 .5 .4 .2-.2 .9 .6 .6-.3 .5 .8 .4-.2 .7-.9 .5-.1 1.1 .8 .5-.1 .4-.7 1.1 .5 .5-.2 .2-.4 .9 .7 .7-.8 .9 .8 .7 .1 .8-.1 .3-.5 .2 .3 .4-.2 .3 .5 .4-.3 .3 .3 .9-.5 .4 0 .2 .3 .2-.2 .3 .2 .4-.3 .5 .1 .4 .3 .5 0 .4-.4 1.1 .4 1.1-.8 .3 .6 .2-.3 .2 .3 .7 .2 .7-.3 .7 .6 .8-.8 .5-.2 1.4 .4 .4-.4 .9 .8 .7-.2 .4 .2 .9-.8 1.1 .8 1-.3 .2 .2 .7-.7 .8 .8 .7-.5 .7 .2 .4-.4 .9 .6 .3-.4 .4 0 .3 .4 .8 .1 .1-.1 .6 .3 .5-1 .4-.1 .5 .4 .4-.1 .3 .6 .6 .3 .3-.5 .4 .2 .7-.3 .2-.5 1.1 .7 .3-.5 .4 .2 .2-.3 .3 .5 .4-.1 .2 .2 .3-.1 .2-.5 .7 .1 .2 .3 .7 .4 .4-.1 .4-.5 .5-.2 .5 .8 .9-.8 .6 .1 .2-.2 .7 .5 1.1 0 .3 .3 .4-.5 .5-.2 1.1 .8 .5-.3 .2-.4 .7 0 .2 .3 .9-1.1 .6 .7 .5 .1 .4-.5 .3 .4 .4-.1 .2 .4 .5-.4 .2 .4 .2-.2 .1 .3 .6 .2 .9-1.1 .5 .7 .4-.2 .2 .4 .3-.2 .4 .3 .2-.4 2.1 .4 .4-.2 .4 .1 .1-.4 .4 .3 .4-.2 .1 .3 .4-.4 .9 .2 .2-.4 .3 .4 .4-.2 .2 .3 .5 0 .6-.2 .3-.4 .9 .2 .6-.5 .5 .4 1.1-1 .7 .7 .4-.4 .9-2.6 .7-5.5 1.2-46.3 .9 35.4 .6 9.1 .2 .4 .3-2.8 .9-17 .7 13 .4 2.9 1.1-18.8 1.2 25.7 .4 1.4 .4-1.1 .9-9.5 1 12.5 .6 2.6 1.1 1 1 .3 .2 .3 1.6-.6 .9 .6 .6-.1 .2-.4 .9 .5 .5-.5 .5 .5 .2-.3 .4 .2 .5-.2 .7 .4 .9-.2 .6 .5 2-.4 .1 .3 .2-.3 .6-.2 1.2 .1 .6 .5 .5 0 1.4-.7 .9 .5 .6-.4 .2 .2 1 .1 .6 .4 .9-.3 .2 .4 .9-.5 .1 .3 .8-.1 .1-.4 .8 .5 .1 .4 .9-.7 2.2-.1 .7 .5 .8-.2 .1 .4 .6-.4 .2 .2 .1-.6 .6 .5 .5 .1 .4-.4 .7 .2 .4-.2 .1 .2 1.3-.7 .9 .9 .7-.1 .4-.6 .9 1 .3-.6 .4-.1 .9 .4 .7 .1 .9-.2 1.3-.6 .3 .2 .6-.2 .9 .5 .5-.3 1.3 .4 .9-.3 .2 .4 .7 .3 1.4-1.3 1.1 1 .5-.7 .4-.1 .7 .7 .6-.1 .5-.5 .9 .7 .5 0 .4-.4 .2 .3 .3-.3 .4 .2 .4-.3 .3 .4 .6-.2 .1 .1 .4-.3 1.1 .7 .9-.7 .7 0 .4 .5 .3 0 .7-.6 .8 0 .1 .3 .6 .1 1.1 .1 .5-.4 1.1 .4 .7-.8 .4 .4 1-.1 .6 .5 .2-.3 .7-.2 .3 .4 .4-.1 .2 .2 .3-.2 .4 .4 .2-.4 .2 .2 .3-.2 .4 .3 .2-.3 .9 .3 .9-.6 .5 .3 .7-.2 .7 .4 .2-.2 .6 .5 .1-.3 .2 .2 1.8-.5 1.1 .3 .6-.6 .5 .3 .2-.2 1.1 .3 .3-.6 1.3 .9 .9-.7 .9 .3 .2-.4 .1 .4 .2-.2 .6 .2 .1-.4 .6-.1 2.7 .9 1.4-.5 .4 .1 .9-.6 1.1 0 .3-.2 .2 .3 .2-.5 .5 .1 .2-.3 .2 .3 .2-.4 .1 .2 1.5-1.9 .3-1.5 .6-5.1 .3-7.4 1.1-38.4 1.5 43.7 .3 1.6 .4-1.7 1.1-17.3 1.4 23.6 .5 2.5 .8 1.2 1.2-.5 .7-1.9 .6-3.4 1.4-34.3 1.1 28.2 .5 6 .2 .4 .4-1 1.1-13.3 1.2 16.6 .4 2.3 .7 1.4 .7-.1 .4 .6 .5 .2 .4-.3 .3 .6 .8 .1 .3-.5 .4 .2 .2-.2 .5 .4 .2-.2 1.1 .2 .3 .6 .6 .3 .5-1 .5 .1 .2 .5 .6 .2 .7-.4 .5 .2 .4 .4 .7-.7 1.1 .2 .2-.3 .2 .2 .5-.4 .2 .4 .7 .5 .7-.8 .7 .4 1.1 0 .2-.2 .9 .3 .5-.7 .4 0 .5 .8 .6-.1 .3-.3 .4 .3 .2-.4 .5 .7 .2-.1 .2 .5 1.1-.9 .3 .5 .9-.7 .2 .5 .7 .1 .6-.7 .9 .5 .7-.4 .3 .3 .8-.1 .9 .3 .9-.1 .1-.4 .4 .4 .5 .1 .9-.7 1.1 .9 1.1-.7 .7 .7 .9-.5 .9 .4 .9-.5 .7 .5 .6-.3 .3 .6 .2-.2 .4 .3 .3-.6 .2 .1 .2-.2 .5 .2 .6-.4 1.2-.3 .2 .3 .2-.2 .2 .3 .5 .1 .2 .4 .5-.2 .2 .2 .2-.4 .7-.6 .4 .4 .2-.4 .3 .2 .2-.2 .5 .6 .8 .2 .5-.1 .5-1 .2 .1 .4-.3 .2 .3 .3-.1 .2 .2 1.3-.6 .1 .4 .8-1.2 .5-2.3 1.4-19.8 1.1 15.6 .6 4.2 .3 .4 .4-1 .9-6.3 .2-.9 .1 .1 1.3 9.2 .4 1.4 .5 .8 .9-.2 .4 .5 .3 0 .4 .5 .2-.3 .3 .5 .9-.3 .2 .2 .2-.3 .9 .5 .7-.6 .7 .1 .4-.2 .7 .5 .7-.5 .8 .6 .3-.6 .6 0 .3 .5 .4-.2 .2 .3 .1-.3 .6 .1 .2-.2 .3 0 .2 .5 .2-.3 .5 0 .2-.3 .5 .5 .2-.2 .4 .2 .9-.2 .3 .6 .6-.1 .7-.8 .7 .3 .4-.3 .2 .4 .3-.3 .4 .5 .9-.7 .5 .9 .9-.7 .7 .3 .8-.6 .9 1 .7-.6 .5 .6 2-.8"/>
<path stroke="#ea6502" d="M102.7 444.5l.5 .5 .4 0 .5-.8 .8 .6 .5-.7 .5 .2 .4 .6 1.1-.8 .5 .6 .4 .1 .7-.2 .2-.3 .3 .3 .4-.3 .2 .2 .5-.3 .7 .1 .9 .5 .8-.7 1.4-.1 .4 .3 .5-.3 .2 .3 .3-.3 .4 .3 .4-.2 .9 .5 .7-.4 .3 .2 .9-.9 1.1 1 .4 .1 .2-.5 .7-.3 .3 .5 .8 .3 .7-.7 .3 .4 .2-.2 .4 .2 .9-.1 .3 .3 .2-.3 .6-.2 .9 .6 .5-.1 .6-.6 .5 .2 .5-.4 .8 .6 .5-.5 .7 .2 .6-.3 .3 .4 .2-.2 .4 .3 .3-.2 .2 .3 .4-.4 .3 0 .7 .8 .9-.8 .6 .6 .2-.4 .7-.4 .5 .9 .4 0 .5-.6 .7 .7 .4-.5 .2 .2 .2-.2 .5 0 .5-.4 .6 .4 .2-.2 1.2 .6 .6-.6 .5-.2 .9 .5 .4 .1 .3-.4 1.8 .2 .4-.3 .5 0 .4 .4 .9-.2 .3 .1 .2-.2 .2 .3 .5-.3 .2 .3 .2-.2 1.3-.1 .3-.3 .2 .3 .4-.4 .3 .2 .2-.2 .2 .2 .3-.1 .4 .3 .5-.1 .2-.3 .4-.1 .9 .3 .9-.4 .7 .8 .9-1.2 .2 .2 .7-.1 .4-.8 .3 .1 .2-.2 .4 .3 .7 0 .9-1 .3 0 .2-.5 .4-.1 .3-.6 .2 .2 .7-1.6 1.1-3.8 .6-7.5 .1-8 .4-45 .7-389.9 2.4 0 .5 298.3 .4 101.6 .3 37.1 .4 11.1 .7 5.1 .9 1.9 .7 .9 .2 0 .5 1 1.1 .9 .4-.1 .2 .2 .3-.3 .9 1.4 .8-.6 .3 .3 .6-.2 .5 .3 .2 .4 .9-.3 .5 .2 .4-.2 .5 .3 1.1-.2 .4 .4 .9-.7 .1 .3 .4 0 .2 .5 .3-.6 .4 .1 .2-.2 1.2 1 .9-.5 .6 .2 .7-.6 .4 .1 .9 1.2 .7-.5 .7 .2 .9-1 .4 .7 .3-.2 .9 .7 .4-.4 .3 .2 2.2-.7 1.1 .8 .3 0 .2-.4 .7 0 .2 .2 .4-.2 1.2 .7 1.1-.8 1.6 .5 .6-.4 .2 .1 .1-.2 .6 .5 .2-.3 .5 .1 .7-.4 .7 .8 .6-.1 1.1-.8 .5 .3 .7-.4 1.3 1.1 .2-.4 .3 .1 .4-.3 1.4 .3 .7-.1 .4-.3 .9 .5 .7-.6 .7 .2 .2 .4 .9-.6 .9 .5 .6 0 .5-.6 .7 .2 .2 .3 .7-.4 .6 .5 .5 .1 .4-.3 .3 .1 .4-.3 .9 .9 .7-.7 .6 .3 .1-.3 .6 0 .5 .4 .9-.8 .7 .1 .4 .5 .4-.2 .1 .2 .9-1 .4 .6 .5 .3 .6-.5 .5 .4 .4-.1 .2 .2 .5-.5 .9 .9 .7-.7 .9 .2 .2-.2 .2 .2 .2-.2 .5 .4 .7-.3 .6 .2 .1-.1 .2 .4 .9-.7 .9 .3 .2-.3 .2 .1 .5-.3 .6 .4 .3-.2 .7 .8 .4-.3 .2 .2 .3-.8 .8-.3 .5 1 .2-.4 .2 .3 .3-.6 .6-.1 .3-.3 .4 .5 .3-.1 .2 .5 1.3-.4 .5 .3 .2-.1 .7 .5 .9-.7 .2 .2 .4-.2 .1 .3 .8 .1 1.6-.2 .5-.4 .9 .2 .4-.4 .9 .9 .2-.2 .1 .2 .4-.4 .7-.3 .6 .5 1.6 .2 .2 .2 1.9-.8 .6 .6 .3-.1 .6-.7 .5 .2 .2 .4 .2-.3 .5 .2 .2-.2 .7 .8 .9-.3 .7-.6 .4 .4 .4-.2 .7 .9 .5-.6 .4-.1 .5 .6 .9-.4 .9 .6 .9-1.3 .2 .2 .6-.1 .1 .5 .8 .5 1.2-1.1 1.5 1 1-.6 .2 .3 .6-.1 .3-.5 .6 0 .3 .4 .2-.1 .5 .6 .9-.4 .2 .3 .9-.2 .9 .2 .9-.7 .9 .5 .4 .1 .2-.2 .1 .4 .6-.5 .2 .2 .5-.2 .9 .5 .4-.4 .5 0 .2 .3 .9-.5 .9 .4 .2-.2 .1 .3 .2-.3 .6 .5 .1-.2 .2 .2 .4-.6 .3 .3 .2-.2 .9 .3 .7-.8 .4 0 .5 .8 .2-.3 .4 .2 .3-.3 .4 .3 .4-.5 .3 .2 .2-.2 .4 .4 .5-.6 .9 .7 .2-.3 .9-.2 .3-.3 1.3 .9 1.3-.8 .3 .3 .2-.2 .4 .4 .3-.4 1.3 .9 .3-.5 .2 .2 .4-.4 2.5 .6 .5-.8 .8 .5 .7-.8 .3 .2 .2-.1 .4 .4 .3-.2 .2 .3 .4-.1 .7 .6 .4-.3 .9 .4 .3-.6 .7 0 .2 .4 .2-.2 .4 .4 .5 .1 .4-.7 .3 0 .9 .9 .9-1.2 .7 .6 .6-.6 .9 .5 .9-.4 .5 .4 .9-.3 .6 .5 .3-.5 .8-.2 .1 .5 .8-.1 .3-.3 .6 .4 .7 .2 .2-.2 .3 .2 .9-.7 .6 .4 .1-.3 2 .6 .6-.6 .7 .1 .3 .3 .2-.4 .4 .4 .3-.3 .2 .3 .2-.2 .5 .4 .6-.2 .7 .1 1.3-.5 .1 .4 .2-.1 .4 .4 .5-.2 .4-.6 .2 .1 .3-.3 .4 .4 .3-.1 .8 .4 .1 .3 .6-.3 .3-.8 1.5 .8 1.1-.7 1.8 .7 .1-.2 .6 .1 .3-.2 1.1 .2 .2 .3 .9-1.2 .7 1.1 .7-.8 .9 .7 .2-.4 .2 .2 .5-.2 .2 .3 .4-.3 1.2 .7 1.3-.7 .2 .2 .2-.2 .1 .2 .6-.2 .5 .5 .9-.6 .6 .2 .3 .4 1.1-.1 .4 .2 .9-.3 .7 .3 1.8-.4 .3 .2 1.5-.1 .2-.3 .3-.1 .9 .9 .9-.5 1.1 .4 .9-.7 .6 .6 .3 .1 .9-.9 1.3 0 1.1 .6 .1-.3 .4 .3 .2-.2 .3 .3 .6-.1 .2-.4 .5-.3 .7 .9 .6-.5 .5 .2 .2 .3 1.4-.4 .9 1 .9-1.2 .4 .5 .5 .2 1.1-1.1 .5 0 .8 .9 .3-.2 .2 .1 .4-.5 .5 0 .7 .7 .2-.1 .5 .3 1.1-.7 .9 .2 .2 .2 .7-.1 .2-.4 .2 .3 .3-.1 .4 .4 .4-.3 .7 .4 .3-.3 1.3-.2 .2 .2 .5 0 .7 .5 .2-.3 .2 .1 .5-.6 .2 .1 .2-.2 .9 .5 .4-.2 .3 .2 .2-.2 .9 .7 .9-.8 .5 .3 .8-.1 .1-.3 .4 .3 1.3-.1 .1-.2 .2 .1 .6-.2 .1 .2 .2-.2 1.5 .3 1-.7 .4 .3 .2-.1 .9 .8 .3-.2 .9 .2 .4-.3 .4 .1 .7-.7 .3 .1 .6 .7 .2-.2 .3 .2 .4-.4 .7 .6 1.1-.9 .3 .4 .4-.5 .2 .2 .3-.1 .4 .9 .7 0 .2-.2 .9 .4 .9-.7 .7 .2 .4-.4 .7 .4 .4-.3 .2 .3 .1-.2 .6 .5 .2-.2 .3 .3 .7-.5 .8-.1 .1 .2 .4-.2 1.3 .5 .3-.4 1.6 .2 .9-.5 .9 .6 .8-.6 .7 .1 .9 .6 .7-.5 .7 .7 .6-.9 .3-.1 .7 .7 .4-.3 .4 .3 .5-.1 .5-.4 .4 .3 1.4 .2 .4-.4 .4 .4 .3-.4 .2 .5 .5-.4 .2 .4 .2-.6 .7-.2 1.1 .8 .5-.1 .2 .1 .2-.2 .9-.1 .2-.3 .3-.1 .4 0 .2 .5 .5 .1 .6-.7 .5 .6 .4 .1 .5-.7 .2 .5 .3-.4 .4 .4 .2-.2 .5 .6 .7-.8 .8 .7 .7-.5 .5 .3 .7-.5 .6 0 .3 .4 .2-.2 .4 .3 .3-.4 .8 .3 .7-.3 .3 .4 .4 0 .5 .5 .9-.9 .4 .5 .4-.6 .5 0 .4 .6 .5 .1 .9-1 .5 .3 .2-.3 .6 .2 .1-.2 .4 .8 .2 0 .9-1 .9 1 .5 0 .6-.5 .9 1 .9-1 .5 .3 .4-.3 .2 .2 .1-.3 .6 .4 1.1-.5 .3 .2 1.3-.7 .5 .1 .6 .6 1.2 0 .7-.3 .9 .2 .8-.3 .1-.5 .8-.3 .3 .4 .7-.6 .8 .5 .5-1.1 .4-.2 .5-.1 .9-2 .5-.7 1.1-5.2 .9-10.5 1.5-43.6 .3-3 1.6 23.2 1.1 23.3 .7 9.2 .8 4.8 1.4 3.9 .9-.2 .9 1.7 .4 .1 .3 .5 .7 .1 .4-.3 .4 .6 .5 .2 .7-.9 .4 0 .9 1 .5-.3 .9 .6 .6-.5 .9-.1 .1-.4 .9 .8 .8-.3 .9-.9 .1 .2 .9-.2 .9-1.6 .2 .4 .2-.3 .4-1 1.6-9.6 .3 .7 .6 2.4 1.1 1.5 1.4 4.9 .5 .6 .4-.3 .2 .1 .5-1 .6-2 1.2-12 .6-2.3 .9 5.4 .5 .8 .2 .8 1.3 8.5 .5 2.3 .4 .9 .1-.1 .6 .7 .7 1.3 .7-.4 .4 .3 .7-.3 .9 1 .9-.6 1.3 .3 .1-.3 .6 .4 .7-.4 .5 .5 .8-.5 .5 .7 .4 0 1-.6 .4 .3 .4-.1 .1 .3 .6 .1 .2 .2 .7-.3 .3-.5 .2 .2 .6-.2 .9 1.1 .1-.3 .9 0 1.1-.8 .9 .3 .9 .9 .4-.7 .5 .2 .4 .8 .5-.2 .9-1.5 .6 .6 .1-.2 .4 .4 .5-.5 .2 .3 .2-.2 .5 .3 .4-.4 .4 .2 .9-.1 .3 .5 .9-.6 .4 .4 .7 .2 1.8-.2 1.1 .4 .5-.4 .4 0 .2 .3 .1-.3 .4 .1 .2-.3 .3 .4 .2-.2 .4 .7 .2-.6 .3 0 .2-.4 .9 .5 .9-.3 .2 .2 .5-.2 .2 .2 .2-.2 .7 .1 .2-.3 1.6 .7 1.1-.8 .9 .8 .7-.6 .5 0 .4 .7 1.1-.8 .5 .1 .9 .8 .7-.6 .4 .2 .4-.3 .2 .2 .3-.2 .4 .2 .5-.5 .4 .4 .3-.2 .2 .3 .4-.3 .3 .3 .4-.6 1.1 .8 1.1-.4 .9 .4 .3-.2 .4 .2 .9-.9 1.1 .7 2.3-.4 .2 .4 .7 .2 .2-.4 .3 0 1.1 .8 .7 .1 1.3-1.1 .7 .7 .7-.1 .8-.5 .9 .6 .9 0 2.3-.8 1.4 .7 .2-.2 .6 .2 .5-.6 .9 .6 .5-.6 .2 .1 .4-.3 .7 .2 .2 .4 .2-.2 .3 .2 .4-.3 .3 .1 .9-.6 1.3 .6 .7-.3 .9 .4 .2-.2 .2 .2 .3-.6 .9 .6 .4-.2 .7 0 .2-.4 .9 .5 .9 0 .7-.5 .4 .1 .5-.5 .2 .2 .2-.2 .5 .9 .4 0 .7-.5 .7 0 .7-.5 .9 .3 1.8 .2 1.3-1.1 .4 .1 .1-.4 .9 .1 1-1 .3 .1 .2-.4 .4 0 .7-.4 2-2.9 1-2.6 .8-3.4 .5-3.3 .5-5.8 .8-14.2 .5-19 1.6-108.1 .4 6.7 .9 40.5 .9 11.7 1.4 64.4 .9 18.8 .6 5.2 1.2 7 .9 1.5 .7 2.2 .4 0 .9 1.6 .9 0 1.8 1.6 .9-.8 1.3 1.2 .7-.3 .5 0 .6 .5 .3 .8 .9-.3 .2 .4 .4 0 .5-1.1 1.4 1 1.3 .2 .5-.3 .2 .2 .2-.2 .7 .2 .9-.1 1.1 .6 .7-.8 .6-.2 1.2 .7 1.3-.7 1.8 1.1 .5-.8 1.1 .2 .4-.4 1 .6 1.3-.3 .9 .8 .2-.5 .3 .2 .4-.3 .2 .2 .3-.5 .9 .7 .8-.6 1.4 .9 .7-.7 .8 0 .1 .3 .6 .1 .5-.8 .7 .6 1.3-.2 2 .6 .9-.8 .2 .4 .7 .4 .2-.3 .5 0 .2-.2 .7 .4 .5-.4 .6 .3 2-.6 .1 .4 .8 .2 .1-.3 .2 .2 .4-.1 .2-.3 .1 .2 .6-.3 1.1 .4 1.2 .1 .2 .3 .9-.7 .7 .7 .6-.5 .5 .1 .2 .3 .7-.3 .2-.5 .3-.2 1.8 1 .9-.6 1.7-.2 .3-.4 1.1 .4 .2-.2 .5 .5 .9-.7 .2 .3 1.3-1.4 .3 .3 1.3-2.8 .5-2.9 1.1-10.7 .4-1.6 1.2 6.6 .4 .5 .5-.1 .4 .9 1.4 7.5 1.3 2.6 .9 .1 .7 .8 .5 0 .8 .6 .7 .1 .9-.4 .3 .5 .4-.5 .4 .2 .1-.2 .4 .6 .4-.1 .1 .1 .4-.3 .4 .4 .1-.2 .2 .2 .2-.1 .9 .3 1.3-.8 .3 .1 .4 .5 1.1-.1 .2 .2 .1-.2 .9 .3 1.3-.4 .4-.5 .9 1 .3 .1 1.1-1.3 1.3 1 .1-.2 .9 .2 .6-.3 .7 .4 .5-.5 .4 .1 .2-.2 .2 .3 .1-.3 .4 .2 .2 .7 .2-.3 .1 .2 .4-.3 .2-.4 .2 .3 .7 .1 .5-.1 .6-.5 1.8 .7 .5-.8 .4 .3 .5 .9 .7-.6 .7-.1 .9-.5 .4 .5 .4-.2 .9 .4 .3-.3 1.5-.2 .9 .5 1-.7 .4 .3 .9 0 .2 .2 .9 .2 .2 .3 .3-.4 1.1 .1 .9-.4 1.1 .4 .2-.2 .7 0 .3 .4 .6-.1 .3-.6 1.3 .6 .2-.2 .9 .1 .5-.3 .9 .5 1.1-.8 .2 .3 .3-.3 .9 .7 .9-.8 .9 1 .9-.8 .2 .4 .7 .3 .2-.4 .7-.1 .2 .2 .4-.1 .2-.2 .1 .3 .2-.3 .6 .6 .1-.3 .9-.3 .2 .3 .6-.2 .1 .3 .6-.1 .2 .2 .3-.5 .4 0 .2-.4 .9 .7 .5-.6 .6-.2 .9 .9 .1-.5 .2 .1 .9 .8 1.1-.8 .2-.5 .9 1 .3-.3 .9 .1 .8-.6 .9 .9 .1-.2 .4 .2 .4-.3 .1 .1 .9-.7 .8 .7 .7 .2 .5-.4 1.6 .4 .8-.1 .3-.5 .9 .4 .9-.2 .2-.4 .4 0 .5 .6 .5 .2 .2-.2 .4 .1 .3-.3 .2 .2 .4-.2 .3 .3 .9-.6 .4 .1 .7 .7 .6-.1 .7-1 .9 .8 .7 0 .9-.7 1.3 1 .1-.5 .4-.2 .2 .2 .2-.2 .1 .4 .6-.5 .9 1.1 .9-.8 .5 .4 .9-.6 .7 .8 1.1-.6 .7-.1 1.5 .6 .9-1 .5-.2 .2 .2 .7 .1 .9 1.3 .4-.3 .3 .1 .2-.4 .9 .3 .4-.1 .3-.7 .6-.1 .3 .3 1.5-.6 1.2 1 1.1-.6 .7 .2 .6 .5 .2-.2 .2 .2 .5-.2 .2 .3 .5-.5 .6 .2 1-.7 .2 .4 .7 .5 .4-.3 .5 .1 .2-.3 .4 .4 .3-.6 .2 .1 .4-.3 .9-.1 .7 .9 .2 .1 .2-.2 .1 .2 .9-1 .8 .6 .5-.3 .7 .6 .6 0 .3-.2 .2 .2 .7-.1 .4-.6 .5 .1 .4 .5 .3-.7 .2 .4 .4-.1 .3 .2 .6-.2 .3 .2 .8-.3 .1 .2 .4-.3 .4 .1 .1-.3 .2 .3 .9-.4 .7 .8 .6-.2 .9 .4 1.1-.5 .5 .6 .7-.6 .6 .2 .3-.4 .6 .1 .3 .5 .4-.2 .7 .3 .9-1.1 1.1 .4 .2 .4 .9-.5 .3 0 .4 .5 .5-.1 1.1-.8 1.3 .9 .1-.4 .8 .3 .5 .8 .9-.7 .7-.2 .6 .3 .1-.2 .4 .2 1.6-.8 .2 .6 .5-.2 .2 .3 .4-.3 .3 .2 .4-.2 .4 .6 .7-.3 .2-.4 .3-.1 .4 .2 .9-.1 .5 .5 .4-.1 .2-.4 .7-.2 .2 .4 .1-.2 .4 .3 .7-.4 .4 .6 .3 0 .6-.7 .5 .4 .6-.6 .9 1.2 1.2-1.3 .8 .2 .3 .7 .4 .1 .5-.6 .7-.2 .8 .9 .3-.1 .4-.9 .5-.2 .2 0 .2 .5 .7 .3 .2-.2 .2 .1 .1-.4 .8-.5 .1 .2 .6-.2 .3 .1 .9-.4 .4 .3 .7-.6 1.3-2.4 .7-2.1 .5-2.8 1.5-12.8 .3 .8 1.3 8.3 .2 .4 .7-1.1 .4 .1 1.2 7.1 .6 1.8 .7 1.6 .9 .9 .5 1.1 .7-.2 .8 .4 .9-.4 .7 .4 .7-.4 .4 .4 .3-.1 .7 .5 .9-.3 .2 .3 .4 0 .9 .7 .7-.8 .2 .3 .2-.3 .5 .2 .2-.6 .2 .2 .5 0 .5 .6 .6-.2 .2 .4 .1-.6 .8-.8 .3 .9 .6 .1 .1-.2 .9 .6 .6-.5 .7-.2 .9 .6 .9-.5 .4 .6 .9-.6 .5 .4 .2-.2 .9 .4 .2-.3 .9 0 .3-.7 .6 .2 .3 .4 .9-.3 .4 .5 .5 .2 .4-.5 .3 .1 1-.1 .3 .5 1.3-.6 .9 .7 .3 0 .6-.6 .7 .3 .9-.4 .5 .8 .4-.1 .4-.6 .5 .2 .4 .6 .1-.5 .9 .3 1.1-.7 .6 .1 .5 .6 1.6-.2 .6-.4 .9 .4 .5-.1 .2 .2 1.1-.5 .7 .3 .2 .3 .9-.1 .9-.6 .3 .7 .4 .2 .9-.6 .2 .1 .9-.2 .5 .2 .5-.4 .8 .3 .7-.2 .3 .5 .4-.1 .4 .5 .7-.8 .5 .2 .4-.3 .3-.1 .6 .6 .7-.4 .7 .4 .7 .1 .4-.4 .5-.2 .6 .6 1.1-.8 .9 1.1 .1-.5 .8-.4 .9 .3 .9-.6 .1 .2 .8 .3 1.4-.3 .7 .7 1.1-1.3 1.1 .9 .9-.3 .3 .4 .9-.5 .8 .4 .3-.2 .4 .3 .7-.6 .4 0 .1 .5 .4 .2 .2-.2 .2 .3 .1-.3 .6-.1 .2-.3 .9 .5 1.2-.4 .9 .5 .8-.1 .1-.4 .2 .2 .4-.1 .3 .3 .2-.2 .4 .3 .9-.8 .3 .3 .2-.3 .7-.1 1.1 .6 .7-.7 1.5 1 .5-.8 .9 .4 .7-.4 1.8 .3 .9-1 .9 .6 .9-1.2 1.1 .6 .9-1.1 1.5-3.4 1-7.5 1.7-21.5 .3 1.6 1.3 14.6 .3 .8 .9-2 .4 0 .2 .6 1.2 9.4 .8 3.2 .3 .6 .7 0 .8-1 .7-1.9 .5-3.7 1.3-17.5 .3-2.5 .4 1.7 .7 9.2 .7 5.4 .2 .3 .4-.2 .5-2.4 .4-.3 .2 .2 1 8.7 1.1 5.6 .6 1.3 .5 .2 .7 .7 .4 .9 .5 .6 .6-.5 1 .7 1.7-.7 .3 .6 .9 .2 .6 .4 1-.9 .9 .9 .2-.3 .4 0 .3-.3 .9 .8 .4-.2 .2 .1 .3-.3 .4 .4 .2 .1 .2-.3 .2 .3 .5-.9 .5 .8 .9-.8 .6 .6 .5-.2 .7 .5 .2-.2 .6 .2 .7-.5 1.4 .2 .2-.3 1.1 .4 .9-.5 .9 .7 .2-.2 .5 .1 .2-.4 .2 .2 .1-.3 .6 .6 .3-.2 .9 .4 .4-.8 .4-.1 .7 .3 .3-.3 .8 .4 .3-.4 .4 .3 1.1 .2 1-.3 .9 .4 .4-.4 .9 .3 .5-.4 .6 .3 .2-.2 .1 .3 .6-.2 .9-.8 .9 1 .5-.5 .6 .4 .9 0 .3 .3 .2-.4 .9-.4 1.6 .5 .2-.4 .2 .1 .2-.2 .3 0 .2 .4 1.3-.5 .7 .5 2.3-1.2 .4 .1 .2 .4 .1-.2 .6 .1 .2-.4 .1 .2 .4-.3 1.3-2.8 1.9-9.4 .6 .5 1.4 5.8 .4 .4 .9-1 .5 .1 .6 1 1.6 5 .2-.1 .3 .6 .4-.3 .2 .5 .1-.1 .6 .7 .2-.4 .1 .3 .4-.3 .4 .2 .1-.2 1.1 1.2 .4 0 .9-.6 .4 .2 1-.2 .4 .3 .4-.5 .3 0 .2-.3 .5 .7 1.7-.5 1 .7 .8-.2 .5 .9 .9-.8 .7-.2 .4 .5 .7-.2 .2-.4 .3 .5 .2-.2 .6 0 .9 .5 .9-.5 .5 .4 .7-.7 .6 .5 .3-.1 .4 .2 .2-.3 .3 0 .4-.7 .2 .3 .3 0 .4 .3 .2-.3 1 .9 1.1-.6 1.3 .1 .3-.3 .4 .1 .2-.2 .5 .4 .2-.2"/>
<path stroke="#7fcebf" d="M102.7 333.6l.2-.1 .3 .3 .6-.2 .3-.7 .6-.3 .3 .1 .2-.1 .4 .5 .3 0 .4 .4 .2 0 .5 .3 .6-.5 .3 .1 .2-.2 .4 .4 .7 .4 .3-.2 .8-1 .5 .4 .5-.3 .9 .8 .8-.9 .5 .5 .5 0 .2-.3 1.3 .5 .3 .5 .2-.2 .6 0 .1-.4 .2 .2 1.3-.3 .7 .1 .7-.5 .9 1 .6 .2 .9-1.2 .9 1.1 .9-.5 .3 .3 .2-.3 1.3-.2 .7 .2 .7-.1 .6 .3 .1-.2 .2 .4 .7-.4 .9 .2 .4-.5 .7-.2 .6 .6 .5 .3 1.3-.4 .9 .4 .1-.4 .8-.4 .7 .1 .7 .6 .4-.1 .1 .3 .8-.2 .1-.3 .6-.2 .2-.2 .7-.1 .3 .5 .6 .2 .7-.5 .9 .4 .5-.4 .2 .3 .6-.3 .9 .7 .9-1.1 .5 .4 .4 .8 .7 0 .2-.5 .3-.1 .4-.6 .2 .2 .5-.1 .4 .4 .1-.2 .6 .5 .2-.3 1 .2 .2-.2 .7 .4 .8-.8 .7-.3 .2 .2 .9-.2 1.8 .6 .1-.3 .2 .3 .4-.1 .3 .2 .8-.4 .5-.2 .2 .3 .5-.4 .2 .1 .5-.5 .9 .4 .8-.2 1.2-.7 .6 .1 .1-.2 .2 .2 .6-.7 .1 .1 .2-.4 1.1-.6 1.3-2.9 .7-2.6 .3-3.5 .4-12.1 .4-45.5 .7-278.9 2.5 0 .5 249.5 .6 76.9 .3 11 .6 4 1.1 3.1 1.2 1.5 .9 .2 .9 1.5 .6 0 .7-.3 .9 .6 1.8 .2 .5-.2 1.3 .8 .9-.2 .9 .2 .5-.3 .2 .3 .7 .1 .2-.2 .7-.1 .2 .3 .2-.2 .5 .9 .2-.3 .2 .3 .5-.9 .6-.2 .5 .4 .6-.3 .5 .1 .7 .5 .6-.6 .7 .1 .2 .4 .9-.4 .9 .3 .5-.6 .4 .1 .5 .8 .9-.5 .4 .2 .9-.6 .5 .3 .5-.3 .6 .1 1.6 .9 .7-.2 .7-.7 .9 .4 .2-.2 .6 .4 .1-.3 .2 .2 .4-.3 .7-.1 1.4 .5 .9-.7 .9 .7 .9-.2 .2 .4 .7 .1 .6-.5 1.4 .5 .2-.3 .4 .1 .1-.4 .4 .2 .7-.1 .2 .2 .4-.2 .7 .7 .9-1.4 .7 .6 .4 .8 .9-.6 .7 .2 1.4-.6 .4 .3 .2-.1 .3 .7 .6-.2 .3-.7 .7 .4 .8-.4 .3 .6 .7 .3 2-.9 .4 .3 .9-.1 .2 .2 .2-.3 .5 0 .5 .5 1.3-.3 .2 .3 .3-.2 .4 .5 .2-.2 .3 .3 .9-.8 .9 .4 .4-.3 .9 .4 .4-.6 .5-.2 1.3 .9 .1-.6 .8-.2 .9 .3 .3 .3 .6-.3 .9 .3 .5-.2 .5 .2 .8-.7 .7 .8 .9-.5 .2 .4 .9-.4 .5 .5 1.4-.4 .6 .4 .9-.8 .7 .6 .9-.4 .4 .5 .9-.1 .5 .4 .4-.2 .7 .2 .9-.7 1.1 .8 1-.3 1.1 .4 1.1-1 .4 0 .3 .6 .6 .3 .3-.2 .4 .2 .7-.6 .4 0 .1 .3 .2-.3 .4-.1 .5 .6 .6-.3 1 0 1.5 .5 .2-.3 .1 .2 .6-.7 .3-.1 .8 .7 .3-.3 .2 .2 1.1-1.3 .7 .8 .7 0 .4 .3 .9-.4 1.2 .7 .8-.5 .9 .4 .7-.3 .7 .3 .6-.2 .1 .2 .2-.2 .2 .4 .5-.2 .2 .2 1.1-.8 .4 .5 .7 .4 1.2-.6 .4 .2 .7-.3 .9 .7 .4 0 .5-.4 .2 .1 .2-.4 .5 0 .2-.3 .7 .7 .6-.3 1.8 .5 .1-.3 .4 .2 .4-.2 .1 .2 .6-.5 .5 .1 .4 .5 .5 0 .2-.3 .2 .1 .9-.6 .7 .6 1.6-.6 .6 .7 .7-.5 1.6 .3 .4-.4 .5 .5 .4 .1 .3-.3 .9 .4 2-.6 .2 .3 .9-.4 .3 .3 .2-.3 .4 .2 .9-.2 1.1 .7 .9-.5 .9 .5 .5-.6 1.1 .7 .3-.2 .9 .2 .6-.4 .5 .2 .4-.3 .5 0 .4 .6 .3-.4 .2 .2 .2-.1 .7-.9 .9 .6 .6-.3 .7 .3 .2 .3 .9-.1 .1 .3 .4-.4 .2 .2 .7-.3 .7-.7 .9 1 .2-.4 .7-.2 .4 .4 .9-.6 .3 .3 .2-.2 .9 .7 .8-.2 .3-.5 .9 .6 .4-.1 .9 .7 .9-1.6 .7 1 .5 0 .4 .3 .5 0 .8-.5 .1 .4 .8 0 .3-.3 .9 .5 .6 0 .5-.5 1.4-.2 .4 .3 .4-.3 .9 .5 .7 0 .7 .4 .4-.4 .5 0 .4 .3 .5-.3 .2 .1 .3-.4 1.5-.2 1.1 .9 .1-.3 .4 .2 .2-.2 .3 .3 .8-.8 .3-.1 .6 .6 .7-.4 .9 .3 .5-.1 .2-.2 .5 .1 .6-.5 1.6 .5 .7 .6 .7-.7 .2-.1 .2 .4 .9-.6 .2 .3 .7 .1 .4-.2 .5 .3 .7-.2 .2-.3 .4 .3 .1-.3 .6 .8 .9-.3 .7 .4 .5-.5 .2 .2 .2-.3 .4 .4 .9-1.3 1 1.4 .2-.2 .4 .2 .9-1 .5 .9 .7-.5 .8 .4 .7-.5 .7 .6 .9-.2 .2 .2 .5-.1 .2 .3 .7-.2 .6-.6 .9 .8 .3-.6 1.1 .4 .4-.5 1.2 .4 .2 .2 .2-.1 .4 .4 .3-.8 .2 .1 .4-.4 .3 .4 .2-.2 .9 .7 1.6 .3 1.1-1.1 .2 .4 .3-.3 1.1 .8 .9-1.3 .9 1.1 .9-.8 1.1 .8 .7 0 .7-.4 .6 0 .3 .4 .9-.2 .4 .2 1.3-.6 1 .7 .4-.5 .4 .2 .1-.3 .8-.2 .3 .5 .6-.3 .9 .4 .7-.3 .2 .2 .5 0 .2 .4 .9-.4 .3 .5 .9-.5 .6 .5 1.4-1.2 .7 .2 .2 .4 .6-.1 .1 .3 .2-.3 .4-.1 .2 .2 .3-.2 .6 .2 .3 .6 .9-.3 .6 .3 .9-.6 .5 .1 .2-.3 .3 .3 .6-.1 .3-.4 .9 .6 .9-.6 1.3 .8 .4-.3 .3 .2 .7-.6 .9 .3 .6-.3 .9 .9 .3 0 .6-.7 .7-.1 .9 .2 .7-.5 1.5 .7 .7-.1 .2-.4 1.1 .4 .7-.5 .9 .9 .9-.5 .5 .5 .2-.2 .2 .2 .5-.2 .7 .5 1.3-1.4 1.1 .9 .2-.2 .7 .2 .7 .5 .7-.5 .4 .1 .3-.2 .2 .3 1.6-.2 .4-.3 .4 .3 .9-.3 .1 .2 .6-.1 .9-.7 1.2 .3 .9 .6 .6-.2 .2-.3 .3 .2 .9-.4 .9 .5 1.1-.7 .9 .7 1.1 .4 .9-1 .7 .5 1.1 .1 .3-.1 .4 .2 .4-.2 .3 .2 .2-.3 .4 .4 .5 0 .5-.6 1.3 1.1 .9-1 .5-.3 .8 .5 .9-.1 .5 .5 .7 0 .2 .2 .5-.1 1.3-1 .5 .5 .8-.2 .3 .5 .6 .1 .3-.3 .9 .1 .2-.3 .5 0 .4 .3 .4-.6 .1 .1 .2-.2 1.5 .8 .5-.2 .5 .2 .6-.1 .5-.7 .2 .4 .4 .1 .1-.2 .4 .5 .4-.4 .1 .2 .4-.7 .2 .3 1.1 .3 1.6-.3 1.4 .3 .8-.4 .9 .9 1.2-.9 1.1 .3 .7-.3 .2-.3 .9 .4 1.3-.5 .9 .2 .7-.9 .5 .3 .7-.4 .2-.5 .9-.1 .7-1.6 .4-.3 1.1-3.1 .7-4.2 .9-12.8 1.3-40.2 .3-3 1.6 22.4 1.3 27.6 .7 7.6 .9 4.3 1.1 2.4 .4 .2 .5-.1 .9 1 .4-.2 .5 .8 1.1 1 .3 0 .8-.8 1 .7 .9-.4 .4 .4 .2-.3 .3 .2 .2-.2 .6 .7 1.4-.8 .2 .1 .5-.2 .2 .2 .4-.5 .5 0 .4 .4 .7 .2 .9-1.8 .5-.3 .7-1.8 1.5-10.1 .3 .5 .6 2.6 .9 1.7 1.4 5.4 .7 1 .4-.2 .2 .2 .7-1.6 .5-2.8 1.5-14.3 .3 .9 .8 4.8 .9 2.7 .5 4.6 1.1 5.7 .7 1.8 .6 .7 .3 0 .2 .2 .4-.2 .9 .4 .1-.3 .8 .4 .1 .4 .4-.4 .2 .3 .3-.2 .8 .5 .3-.2 .2 .2 .4-.5 1.2 .5 .4-.2 .9 .3 .3-.1 .8 .5 .5-.7 1.4 1.3 .6-1.2 .3-.2 .6 .4 .3-.3 .4 .6 .7 0 .4-.3 .2 .2 .5-.4 .4 .3 .9-.1 .5 .5 1.3-1.2 1.6 1.1 .9-.7 .2 .5 .7 .5 .3-.5 .8-.1 .5-.4 .7 .5 .7-.3 .8 .4 1-.4 1.1 .7 .9-1.1 1.1 .7 .2-.4 .3 .1 .4-.4 .7-.1 .2 .3 .2-.1 1.2 .7 .2 .4 .9-.3 .9 .5 .9 0 .7-.6 .4 .2 .2-.2 .3 .1 .4-.5 .7 .4 .6 .6 1.4-1.1 .4 0 .3 .4 .6-.4 .7 .3 .5-.3 .6 .4 .7-.5 .3 .3 .2-.1 .4 .7 .5 .2 .9-.7 .6 .4 .3-.2 .6-.7 .9 .7 .7 .1 .2-.4 .7-.1 1.3 .9 .7-.6 .7 0 .2 .2 .5-.2 1.5 0 .3 .4 .2-.2 .5 0 .2-.3 .2 .3 1.1-.4 .5 .1 .2-.2 .5 .4 .6 0 .7-.6 .5 0 .4 .6 2.2 .3 .3-.4 1.1-.3 .2 .2 .5 0 .9 .3 .4-.1 .2 .3 .5 0 .7-.2 .6-.6 .7 .8 .9-.6 1.2 0 .6-.4 1.6 .5 .4 .3 .3 0 .9-.8 .2 .2 .5 0 .6 .5 .5-.1 .2-.4 .7-.1 .7 .6 .4-.4 .4 .1 .7 .6 .5-.6 .7 .1 .4-.3 .4 .2 .7-.4 .7 .7 .5-.6 .8 .5 .3-.8 .4-.2 1.4 .7 .7-.1 .2-.3 .4 0 1.1-.6 .9 .7 .7-.5 .5 .4 1.3-1.1 .7-.2 .2 .3 .7 .1 .4-.4 .9 0 1.6-1.6 .5-.2 .4-.7 .4 0 .3-.8 .2 .1 1.6-4.2 .7-3.4 .8-5.5 .7-9.3 1.1-36 1.4-99.8 .4 6.8 .7 35 1.1 17.1 1.4 64.6 .9 18.7 .9 8 .7 3.8 .9 3 .9 .9 .7 1.4 .6 .4 .9 .3 1.1 1.3 .5 .1 .2-.2 .5 .5 .4 .1 .3-.2 .8 .3 .9-.2 .1 .4 .4-.2 .7 .9 .4 .2 .3-.4 .4 .6 .5-.1 .4-.3 .7 .4 .4-.2 .2 .2 2.1-.2 .2 .2 .4-.5 .3 0 .6 .9 .3 0 .6-.7 .5 .3 .9-.3 .9 .3 .4-.1 .9 .5 .9-.7 1 1 .4 .1 .7-.5 .4 .2 .5-.2 .2-.3 .4 0 .5 .5 .7-.7 .6 .4 .5-.2 .7 .3 .6-.2 .1 .3 .4-.1 .5-.7 .9 1.1 .9-1 .8 .4 .5-.2 1.5 1.2 1-1 .6 .5 .7 .1 .7-.8 .7 .1 1.1 .6 .9-.8 .7 .3 .6-.1 .9 .5 .5-.6 .2 .4 .5 0 .2 .4 .2-.5 .4 .2 .3-.5 .2 .3 .4-.3 .9 .4 .3-.2 .4 .3 .2-.2 .3 .4 1.1-.4 .9-.7 1.8 .9 .2-.1 .7 .3 .5-.4 .8 0 .7-.4 .2 .3 .3-.2 .4 .1 .2-.5 .3 .4 .4 0 1.1 .4 .5-.3 .2 .3 .3 0 .6-.5 .5 0 .2-.2 1.1 .5 .9-1.3 2.1 .5 .6-.2 .2-.5 .3-.2 .6-.8 .5-1.7 .7-4 1.5-12.6 .3 .7 .9 6.3 .4 .8 .3-.2 .4 .6 1.3 6.7 .7 2.6 1.2 1.9 .4 .1 .9 .8 .9-.3 .9 .7 .2-.2 .9 .6 .9-.3 .3-.5 .8 .5 .1 .4 1.1-.3 1.5 .5 .5-.5 .9 .1 .6-.6 .9 1 .3 0 .4-.3 .3 .1 .2-.4 .2 .2 .5-.2 .2 .2 1.1-.5 .4 .7 1.2 .1 .6 .4 .7-.4 .5 .2 .6-.5 .5 .5 1.1-.6 .3 .4 1.1 .2 .2-.3 .4 .1 .3-.5 .2 .4 .2-.2 .9 .3 .3-.4 .4 .4 .4-.2 .3 .3 .2-.3 .5 .3 .2-.3 .2 .1 .5-.5 .2 .2 .7 .1 1.1-.6 .9 .9 .4-.1 .3-.5 .2 .4 .6-.3 .1 .2 .2-.4 .9 1 .9-.6 .4 .4 .2-.2 .5 .4 .9-1.1 .9 .5 .5-.2 .9 .7 .8-.2 .9-.9 .5 .7 .4-.1 .1 .3 .4-.3 .4 .4 .1-.2 .4 .3 .5-.1 .4-.4 .4 .2 .1-.2 .4 .3 .4-.5 .1 .4 .4-.2 .7 .5 .7-.6 .6 .1 .5 .7 .6-.4 .1 .1 .6-.5 .5-.1 .6 .4 .3-.1 .2 .3 .4-.5 .3 .2 .2-.2 .4 .2 .7-.3 .5 .1 .2-.4 .5 .1 .4 .7 .9-.6 .5 .4 .8 .1 .3-.3 .4 0 1.4 .6 .6-.8 .3 0 .4 .6 1.3 0 .3-.2 .9 .5 .6-.6 .5 .2 .7-.2 .4 .4 .7 .2 .9-.7 1.8 .6 1.3-1 .9 1.3 .9-.9 .3 .5 .4-.1 .5-.9 1.5 .8 .7-.5 .7 .6 .9-.4 .4 .2 1.6 .1 .3 .3 .6-.3 .3-.6 .8 .3 .1 .4 .8-.1 .5-.4 .2 .3 .5-.1 .2 .4 .2-.4 .5 .4 .2-.4 .4 .3 .9-.6 .7 .6 .9-.6 1.2 .4 .2-.4 .4 0 .5 .8 .7-.2 .2 .3 .4-.5 .3 .1 .2-.2 .4 .4 .7-1 .9 .6 .2-.4 .9 .5 .3-.1 .4 .3 .7-.4 .6 .2 .5-.4 .7 .9 .4 .1 .2-.5 .3 .1 .4-.5 .3 .2 .6-.1 .9 .6 .2-.4 1 .2 .9-.4 .6 .4 .5 0 .2-.4 .4 .3 .3-.4 .4 .4 .3-.1 .4 .5 .5-.2 .6-.6 .5 0 .2 .3 .7 .3 1.1-.7 .5 .4 1 .1 1-.5 .8 .2 .5 .5 .9 0 .4 .3 .7-.5 .7 .2 .7-.8 .9 .6 .7 0 .4-.6 .4 .4 .3-.6 1.1 .9 .4-.4 .3 .1 .2-.4 .4 0 .5 .4 .7-.4 .6 .8 .9-1.1 1 .5 .6 .5 .9-.5 .7 .6 1.4 .3 .4-.2 .5-.8 .4-.2 .9 .7 .9-.3 .4 .5 .3-.2 .4 .3 .2-.3 .3 .2 .6-.2 .5-.5 .7 .7 .6 .1 .3-.5 .4 .3 .2-.3 .1 .2 1.3-.5 .5 1.1 .4 .1 .5-1 1.1 .7 .2-.3 .4 .2 .3-.7 1.1 .6 .4-.2 .3 .6 .6-.4 .3-.9 1.5 .3 .5 .2 .2 .4 .7-.3 .2-.6 .9 .5 1.1-.1 .1-.3 .6 .2 .2-.2 .1 .5 1.1 .4 1.3-.9 .9 .3 .5-.3 .2 .2 .4-.4 .5 .4 .4 .8 .3 0 .6-.6 .7 .4 .3 0 .8-1.1 .9 1 .2-.3 .7-.3 .2 .2 .3-.3 .9 .5 .2-.2 .2 .4 1.2-.4 .9 .2 .4-.2 .9 .8 1.1-.9 .9 .1 .3-.4 .4 .2 .2-.3 .2 .3 .5-.7 .9 .7 .9-.8 .4 .2 .7-.5 .5 0 .9-1.4 .7-2 .8-3.2 1-10.5 .6-3.2 1.1 6.9 .5 2.2 .4 .3 .5-.5 .4-.1 1.2 6.4 1.1 3.7 .5 .9 .4-.1 .9 1.2 .9 .7 .5-.5 .8 .2 .3-.4 .6 .2 .3 .5 .6 0 .3-.7 .2 .4 .4-.2 .3 .5 .2-.3 .7 .1 .7 .7 .6 .1 .5-.5 .4 0 .5 .4 1.1-1.1 .4 .1 .5 .8 1.4-.7 1.5 .6 .5-.4 .7 .2 .9-.3 .6 .5 .7-.3 .2-.4 .2 .4 .7 .4 .7-.3 .2 .3 .3-.6 .4 .1 .5 .8 .4 .1 .2-.4 .3 0 .8 .5 .9-.6 .1 .3 .6-.2 .2 .2 .7 0 .5-.7 .2 .2 .2-.2 .5 .5 .6-.5 .3 .3 .2-.3 .4 .4 .3-.3 .8 .6 .1-.3 .2 .1 .4-.3 .9 .5 .5-.4 .2 .2 .4-.4 .9 .8 1-.7 .4 .3 1.1-.6 .2 .3 .3-.2 .4 .8 .3 0 .6-.6 .9 .8 .9-1.3 .2 .4 .1-.2 .6 .9 .2-.2 .3 .1 .4-.4 .2 .3 .3-.2 .9 .3 .9-.5 .6 .3 .1-.2 1.5 0 .2 .3 .5-.3 .2 .3 .2-.2 .3 .2 .4-.3 .3 .4 .8 .1 .1-.3 1.5-.3 .3 .5 .6 .1 .5-.6 .9 .3 1.1-.5 .4 .3 .5-.3 .9 .8 1.1-.6 .2 .3 .7 .1 .7-.6 .2 .3 .3-.2 .4 .3 .9 0 1.1-.3 .5 .6 .7 .3 .2-.3 .7-.1 .6 .2 .3-.5 .2 .2 .2-.4 .4 .1 .9-.5 .7 1.2 .7 .3 .2-.6 1.4-.3 .2-.4 .5 .1 .4 .5 .4 0 .5-.2 1.3 .2 .3 .5 .9-.8 .7 0 .8 .7 .7-.4 .2-.3 1.1 .6 .9-.7 .3 .3 .4 0 .5-.6 .4 .1 .2 .4 .1-.3 .2 .3 .6-.6 .5 .8 .2-.2 .2 .2 .3-.5 .4 0 .2-.2 .1 .2 .6-.3 .9 .5 .9-.1 .3-.6 1.8 .6 .8-.3 .1 .1 .9-.7 .2 .2 1.1-.2 .2 .2 1.1-.7 .3 .2 .2-.3 .5-.1 .2-.4 .4 0 1.6-2 1.3-6.7 1.4-20.6 .2-1.9 .2-.8 .1 0 1.5 16.4 .3 1.1 .2-.2 .7-3.4 .4-.3 .4 1.4 1.2 10.4 .4 1.4 .9 1.8 .3 .2 .9-1.2 .8-3.2 .7-7.2 .9-13.7 .3-2.4 1.3 13.4 .5 3.7 .2 .2 .4-.3 .7-2.6 .2 0 2 13.3 1.6 3.5 .7 .4 .2-.3 .9 1.3 .5-.2 .2-.4 .5 .4 .2-.3 .7-.1 .6 .6 .7-.6 .4 .5 .7 .1 .5 .8 .9-.8 1.3 .3 .5-.5 .6 .2 .3 .6 .9-.2 .6 .4 .9-.6 .3 .4 .9-.8 .4 .7 .5 .3 1.3-.4 .9 .4 .9-.8 .5 .1 .4 .6 .4 .1 .5-.3 .2 .1 .2-.5 .7 .2 .2 .6 1.4-.3 .2 .2 .5-.4 .2 .2 .4-.1 .3 .3 .9-.3 .6 .3 .3 0 .6-.7 .3 .1 .7 1.1 .6 0 .3-.4 .4 .1 .2-.2 .3 .1 .8-.8 1 1.4 .9-1 1.1 .5 .6 0 .5-.1 .9-1 .7 .7 .4 .1 .9-.2 1.1 .6 .3-.4 .2 .1 .4-.7 .5 .1 .2 .3 .9-.1 .3 .4 .2-.5 .7-.2 .8 .4 1.2 0 .4-.4 1.2-.2 .9-.4 .6 .3 1.1-1.3 .9 .5 .3-.9 1.3-4.6 1.1-6.4 .3-.3 .2 0 1.1 4.7 .7 1.9 .5 .1 .6-.9 .5-.2 1.8 5.5 .6 .8 .9 .7 .9 .2 .7 .9 .7-.3 .7 .3 .6-.4 .7 .9 .9-.9 .7 .7 .6 .1 .9-.7 .5 0 .4 .6 .7 .3 .3-.9 .4 .4 .4-.4 .3 .2 .2-.3 1.3 .8 1-.6 .8 .9 .5-.6 .7-.2 .2 .3 .4-.2 .3 .6 .7-.6 .8 .7 .5-.7 .9 .2 .5-.8 1.1 1.1 .4-.4 .3 0 .6-.3 .2 .3 .3-.4 2.2 .7 .3-.3 .2 .2 .4-.1 .3 .5 .2-.2 .4 .2 .3-.5 .2 .1 .2-.2"/>
<path stroke="#0b8a76" d="M102.7 223l1.3 0 .7 .5 .5-.3 .6 .2 .1-.1 .9 .1 .8-.6 .7 .6 .7-.4 .9 .3 1.3-.5 .9 .6 .5-.3 .7 .2 .7-.7 2 1.1 .4-.1 .5-.7 .4-.1 .3 .5 .8-.2 .1-.3 .4 .2 1.1-.3 .7 .9 .9-1.1 .2 .2 .7 .1 .4-.3 .7 .5 .2 .4 .5 .2 .5-.7 .2 .1 .2-.1 .2 .3 .3-.3 .6 0 .3 .5 .8-.7 .5 .2 .6-.4 .5 .3 .5-.1 1.1 .6 1.3-.1 .3 .3 .9-.6 .9 .2 1.5-.4 .5 .1 .9 1 1.6-1 .6 .5 .2-.2 .3 .1 .2-.3 .5 .3 .4-.3 .5 0 .4 .5 .5 0 .8-.7 .3 .4 .4-.4 .2 .3 .3 0 .4 .7 1.2-1 .4 .2 .7-.1 .4-.4 .9 .6 .5-.6 .4 .1 .2 .3 .7 .1 .7-.4 .5 .5 .2-.2 .4 .2 .3-.3 .4 .3 .4-.2 .3 .1 .4-.3 .3 .3 .2-.2 .9 .1 .7-.5 .9 .5 .6-.3 .9 .5 .3-.5 .4 .1 .9-.2 .9-1 .5 .8 .4 .2 .5-.5 .2 0 .4-.7 .9-.3 1.2-1.2 .4 0 1.6-4.1 .6-2.9 .3-6.7 .4-23.2 .7-198.1 2.9 0 .5 178.8 .6 44.2 .5 6.8 1.1 4 1.6 2.1 .9 .2 .9 .9 .9 .2 .2-.3 .9 .7 .7-.4 .9 .9 .6-.3 .7 .6 .7-.2 .5 .3 1.3-.5 .7 .4 .6-.2 .5 .4 1.1-.9 1.6 .8 .7-.4 1.8 .7 .6-.1 .1-.4 .9 .3 .6-.2 .2-.3 1 0 .6-.2 .9 .8 .2-.3 1 0 1.1 .5 .4-.3 .3 .2 .2-.1 .4 .5 .9-.8 1.2 .5 1.1-.5 .4 .5 1.1-.7 .9 .7 .7 .1 .9-.7 .5 .7 .7-.9 .9 .5 .4-.3 .5 .3 .2-.2 .2 .3 .9-.7 .9 1.2 1.8-.9 .7 .3 .4-.2 1.1 .8 .9-1 .9 .5 .3-.4 .4 .1 .5 .5 .2-.2 .9 .2 .2-.3 .5-.1 .4 .2 .7-.4 .7 .4 .6-.2 .1 .2 .9-.2 1.1 .5 1.7-.4 .7 .9 .9-.9 .3 .3 .8-.1 .3-.6 1.3 .4 .3-.5 .6 .4 .3 .8 .6-.6 .3-.1 .8 .6 1.4-.5 1.8 .3 .4-.4 .1 .1 .6-.3 1.1 .6 .5-.1 .2 .2 1.1-.4 1.2 .4 .6 .5 .9-.9 .5 .4 .7 .1 .2-.3 .7 .3 .9-.9 .6 .3 .1-.3 .2 .4 .4-.2 .3 .3 .2-.2 .6-.1 .5 .4 1.1-.2 .3-.4 .9 .5 1.1-.6 1.5 1.2 .9-.5 .5 0 .7-.5 .7 .3 .2 .3 .4-.3 .3 .1 .2-.1 .6 .5 .5-.5 .7 .6 .4-.5 .7-.3 .9 .3 .5-.4 .4 .1 .9-.3 .5 .6 .8 .3 .1-.3 .4 .1 .4-.3 .7 .2 .3 .5 .6 0 .7-.4 .5-.8 .2 .3 .2-.2 .5 .7 .2-.3 .2 .3 .4-.4 .9 .7 .9-.5 .3 .4 .2-.3 .4 .5 .3-.2 .2 .1 .5-.5 .6 .1 .2-.2 .2 .3 .9-.7 .3 .7 .9-.4 .9 .6 .2-.3 .7-.4 1.3 .6 1.1-.5 .3 .3 .2-.1 .4 .2 .3-.4 .2 .3 1.1-.1 .5 .3 .6-.6 .1 .2 .2-.2 .6 .4 .1-.1 .2 .3 .4-.2 .9 .4 .9-.3 .7 .1 .5-.6 .2 .2 .2-.2 .5 .7 .9-.7 1.5 .9 .3-.6 .8-.2 .3 .6 1.1-.3 .4 .4 .7-.5 .3 0 .8 .5 .5 .1 1.1-.9 .9 .9 .9-.8 .2 .2 1.2 0 .9 .4 1.1-.8 1.6 .9 .4-.4 1.2 0 .8-.4 .5 .4 .2-.3 .3 .1 .8-.4 .9 1 .3 .1 .4-.1 .2-.4 .1 .1 .2-.3 .6-.2 .5-.5 .9 1.3 .5 .1 .6-.6 .2 .1 .3-.2 .2 .4 .5 0 .2 .2 .9-.3 .9 .3 .2-.3 .9-.1 .5 .1 .4 .4 .9-.7 .9 .4 1.3-.1 .1 .3 .4-.4 .4 .2 .2-.3 .3 .2 1.1-.3 .4 .5 .5 0 .4-.5 .5 0 1.1 .5 .9-.8 1.2 1.4 .8-.8 .5 .3 .7-.6 .7 .7 .6-.5 .9 0 .5-.4 .9 1.1 .4-.1 .5-.7 .7-.1 .2 .1 .2-.3 .2 .4 .7 .3 .2-.3 .7 .1 .7-.4 .7 .6 .9-.2 .9 .2 .6-.3 .9 .5 .7-.4 .2 .2 .7 .1 .4-.6 .9 .6 .9-.7 .9 .6 .7-.3 .7 .4 1.3-.4 .5 .3 .5 0 .4-.5 1.1 1.3 .9-1.1 .7 .3 .5-.1 .8 .2 .1-.2 .6 0 .3 .2 .9-.5 .2 .2 .4-.1 .2-.3 .3 .6 .4-.2 .2 .3 .3 0 .6 .4 .5-.6 .2 .2 .7-.7 .9 1 .2-.2 .5 .3 .6-.4 .7 .5 .7-.9 .7 .4 .2 .4 .5-.1 .4-.5 .4 .3 .9-.3 .3 .3 1.5-.4 .3-.4 .9 .3 .2-.2 .2 .3 .2-.2 .9 .4 .5-.1 .6 .4 .1-.2 .2 .2 .4-.1 .3-.5 .6 .1 .3 .5 .6-.1 .3 .2 .4-.4 .2 .3 .3-.4 .4 .5 .2-.2 .3 .3 .4-.2 .4 .3 .5-.8 .4 0 .5 .5 .7-.9 .6 .1 .3 .6 .4 0 .3 .4 .8-.4 .1-.4 1.1 .5 .2-.3 .9 .5 .7-.6 .2 .2 .4-.3 .3 .2 .2-.3 .5 .2 .2-.2 .4 .5 .3-.3 .4 .6 .4-.4 .1 .5 .4-.4 .4 .2 .7-.5 .5 .5 .9-.4 .7 .5 1.1-.3 .6-.3 1.6 .4 .5-.3 1.1 .1 .7-.4 .4 .5 .7 .2 .5-.5 .2 .2 .2-.4 1.1 .5 .5 0 .4-.5 .5-.2 .6 .5 .9-.7 .3 .5 .6 0 .9 .8 .1-.4 .9 .3 .8-.1 .5 .3 .5-.8 .8-.2 .3-.4 1.3 1 .7-.4 .7 .3 1.3-.5 1.1 .9 .7-.9 .5 .3 .7-.2 1.5 .6 .9-1 .2 .3 .9 0 .2 .3 .7 .1 .5 .4 .6-.4 .1 .1 .4-.5 .4 .4 .3-.2 .2 .3 .5-.5 .6 .1 .5 .8 .2-.2 .5-.1 .8 .5 .9-1.3 .3 .3 .4-.1 .9 1 .3-.7 .6-.3 .3 .7 1.5 .5 .9-.7 .2 .1 .3-.7 .4 .4 .3-.2 .2 .3 .6-.4 .1 .7 .9-.6 .6 .4 .5-.3 .4 .2 1.1 .2 1-.6 1.1 .8 .6-.6 .1 .3 .2-.3 .6 .5 .9-.6 .3 .2 .9-.1 .4 .5 .7 .3 .5-.7 .2 .1 .4-.4 .3 .4 .2-.3 .4 .6 .3 0 .8-.6 .5-.1 .9 .5 .5-.1 .8 .5 .5-.5 .2 .1 .2-.2 .3 .3 .4-.3 .3 .3 .2-.2 1.1 .6 .7-.8 .7 .4 .6-.6 .5 .3 .2-.2 .5 .1 .9 .5 .8-.5 .7 .7 .9-.6 .7 .4 .7 0 .2-.3 .4 .2 .3-.5 .9 .3 .2-.2 .4 .3 .1-.3 .9 .6 .8-.8 .7 .2 .9-.6 .2 .3 .9-.2 .5 .6 .6-.1 .1 .2 .2-.5 .6 .2 .1-.4 .2 .4 .4-.3 .9 .8 .5-.5 .6 0 .1-.2 .4 .3 .7 .3 1.1-.7 .9 .2 .4-.4 .3 .2 .6 0 .3-.5 .4 .1 1.6-.8 .4 .1 1.6-1 .5-.7 1.3-3.9 .5-3 .6-5 .5-9.8 1.3-40.1 .1-2.8 .2-.1 1.5 19.9 1.4 30.5 .7 7.6 1.3 5.1 1.6 2.7 .5 .4 .4 0 .4 .8 .5 .3 .4-.6 .7 .5 .9-.5 .3 .5 .9 .4 .4 0 .9-.6 .7 1.1 1.5-.5 .3 0 .4 .4 .7-.7 .7-.3 .4 .2 .2-.4 .9 0 .1-.1 1.3-2.1 .7-2.6 1.1-7.5 .4-1.1 .1 0 .6 2.5 .9 1.8 1.2 5.8 .2 .4 1.1 .6 .7-1.3 .7-3.2 1.5-14 .3 .8 .4 2.8 1.3 5 1.4 9.4 2.2 3.7 1.2-.3 .4 .6 .9-.6 .4 .5 .5 0 .2 .2 .2-.2 .5 .4 .5-.1 .6-.7 .9 .6 .3-.2 .2 .2 .7-.2 .2-.2 1.1 1.3 1.3-1.4 .7 .8 1.1 0 .1 .2 .6-.4 .2 .1 .3-.2 1.3 .6 1.1-.3 .5 .2 .7-.5 1.1 0 .7 .6 .6-.8 .7 .4 .7-.2 .4 .3 .1-.1 .9 .7 .8-.9 .3 .1 .6 .8 .1-.2 .2 .2 .9-.9 .4 .4 .9-.2 .3 .3 .4-.2 .2 .3 .2-.3 .7-.2 .2 .3 .1-.1 .2 .2 .9-.9 .4 .4 1.1-.1 .3 .8 .2-.3 .4 .3 .1-.5 .4 .1 .2-.3 .9 .5 .3-.4 .4 .1 .5 .5 .6-.7 .2 .3 .5-.4 .2 .3 .2-.4 .9 .8 1.6 0 .9-.6 1.1 .8 .9-.6 .7 .7 .7-.6 .2 .3 .7 .1 .5-.6 .8 .5 .5 0 .4-.4 1.2-.1 .2-.3 .9 1 .6 .2 .3-.6 1.1 .4 .7-.6 .4 .5 .5 .1 .6-.7 .5 0 .4 .4 .3-.3 .2 .4 .7 .3 .7-.4 .2 .1 .9-.8 1.1 .8 .5-.2 .8 .6 .9-.8 .1 .1 .2-.2 .9 1 .9-1.4 .4 .4 .3 0 .2 .4 .2-.1 .4 .2 .9-.4 .7 .4 .5-.2 .6 .4 1.4-.4 .2 .3 .2-.2 .5 .3 1.1-.9 .2 .5 .3 .1 1.3-.6 .7 .4 .5-.5 .6 .6 .9 .2 .2 .5 .3-.6 .6-.3 .7 .5 .7-.4 .2 .3 .7-.4 .2-.3 .3 .3 .2-.1 .6 .2 .9-.7 .9 .7 .9-.9 .3 .6 .6 .3 .5-.5 .2 .3 .5 .1 .4-.5 .9 0 .3-.4 1.1 1.2 2-1.6 .9 1 .5-.1 .6-.6 .7 0 .4-.4 .1 .2 .2-.3 .4 .4 .3-.3 .9 .1 1.1-1 .4 .2 .2-.3 1.2-.3 .9-1.4 .8-.5 .7-.9 1.4-3.1 1.1-5.8 .7-7.4 .7-13.7 .6-18.8 1.6-106.5 .4 7 .7 34.9 1.1 15.9 1.2 57.5 1.1 24.7 .9 7.8 1.4 6.1 .8 1.3 .3 .1 .2 .5 .4 .1 .9 1.8 .1-.2 .6 .1 1.2 1.4 .9 0 .9 .5 .2-.3 .4 .5 .2-.3 .1 .1 .2 .4 .4-.3 .7 .2 .4 .4 .7-.4 .5 .8 .7 0 .6-.4 .2 .2 .9-.2 .7 .1 .3-.5 2.2 1.1 .9-1 .4 .2 .1-.1 .4 .4 .4-.1 .7 .5 .2-.2 .1 .2 .2-.3 .6 .1 .1-.3 1.3 .9 1.1-1 .9 .8 .3-.2 1.3-.1 .5 .4 1.1-.3 .7 .3 .8-.3 .7 .2 .9-.8 .5 .6 .9 0 .9 .5 .6-.1 .1-.3 .6 .5 .9-.9 .7 .9 .6-.5 .1 .3 .2-.6 .4 .3 .3-.6 .2 .3 .6-.3 1.6 1.3 .5-.8 .6-.3 .3 .5 .7 .1 .6-.6 .9 .7 .3-.4 .4 .1 .9 .6 .9-.7 .9 0 1.1 .5 .2-.3 .7-.2 .5 .5 .7-.7 1.3-.2 .9 .7 .2-.2 .2 .2 .1-.3 .9 .5 .9-.6 .2 .2 1.5-.1 .3 .2 .2-.2 .4 .4 .5 .1 .7-.6 .4 .2 .3-.3 .2 .3 .7-.2 .2-.3 .7 .4 .8-.5 .5 .2 .5-.2 .6 .3 .7-1 1.3-.5 1.2-1.7 .2-.5 .9-5.6 1.1-10.7 .2-.9 .1 0 1.1 6.6 .4 .9 .5 .5 .4 1.2 1.2 7.2 .6 1.5 1.2 2 .8 .5 .3 0 .4 .4 1.2-.3 .4 .4 .4-.1 .1 .2 .2-.3 .6 .2 .1-.2 1.1 .7 .6-.6 .1 .3 .2-.3 .7 .3 1.3-.5 .7 .4 .4 0 .9 .8 .9-1.2 .4 .7 2.1-.1 .7 .6 1.3-.9 .7 .3 .9-.1 .4 .6 .3-.4 .6-.1 .9 .2 .3 .3 1.3-.3 .2 .3 .2-.1 .5 .3 .9-.5 .4 .3 1.4-.2 1.3-.8 .7 .4 .3-.2 1.3 .1 .9 .7 1.6-.6 .7 .7 .9-.3 .4 .1 .4-.4 1.2 .7 .9-1.2 .4 0 1.1 1.1 1.6-.7 .2 .3 .5 0 1.1 .7 1.1-.7 .1 .2 .2-.2 1.3 0 .2 .2 .1-.2 .2 .5 .7-.4 .2-.5 1.3 .8 .5-.1 .4-.4 .2 .2 .1-.3 .6 .5 .2-.4 .1 .2 .9-.4 .9 .2 .6-.2 .9 .6 .3-.4 .8-.2 .1 .3 .6-.2 .2 .3 1 .2 1.1-.3 .7-.5 .9 .5 .2-.2 .2 .2 .7 .2 .6-.7 .1 .3 .4-.2 .4 .4 .3-.3 .8 0 .3 .4 .2-.4 .4 .6 .5-.1 .5-.8 .6 .2 .2 .4 .9-.2 .1 .3 .2-.2 .9 .3 .7-.5 .4 .1 .2 .3 .5-.1 .4-.7 .3 .4 1.1 .3 .4 .1 .5-.5 .7 .5 .9 0 .9-.9 .9 .9 .6-.4 .7 .4 .5-.6 .6-.1 .7 .8 .2-.3 .7-.2 .2 .2 1.6 0 .2 .3 1.1-.1 .3 .4 1.3-.8 .7 .3 .2 .4 .3 0 .6-.5 .2 .2 .3-.3 .9 .6 .4-.5 .5 0 .4 .5 .2-.3 .3 .3 .4-.7 .3 .2 .2-.3 .4 .6 .3-.1 .2 .4 .9-.7 .4 .2 .3-.1 .2 .3 .6-.1 .1 .3 .6-.4 .7 .5 .9-.7 .5-.1 .2 .2 .9-.6 .7 .9 .9-.4 .9-.2 .6 .2 .5-.2 .9 .4 .6-.3 1.8 .7 .3-.5 .4 .2 .2-.3 .1 .2 .6-.4 .5 .2 .6-.2 .9 .4 1-.5 .4 .1 .2 .5 .2-.2 .1 .5 .4 .1 .4 0 .7-.9 .5 .8 .4-.1 .5-.7 .6 .3 2.5 0 .4 .3 1.2 .3 1.1-.9 .5 .1 .2 .3 .4 0 .9 .6 .7-1 .5 .6 .2-.1 .2 .4 .5-.7 .2 .2 .2-.2 .4 .4 .5-.5 .9 .6 1.1-.6 1.4 .8 .4-.4 2.1 0 .6-.2 .9 .6 .7-.6 1.4 .6 .6-.3 .5 .2 1.5-.5 .1 .2 .9-.1 .8 .5 .1-.3 .4-.1 .5 .3 .9-.8 .6-.2 .2 .3 .5-.1 .2 .3 .2-.3 .1 .1 .6-.2 .5 .6 .9-.5 .6 .4 .9-.4 .9 .4 .1-.4 1.1 .2 .4-.3 .2 .3 .5-.1 .2 .3 .3-.4 .4 .3 .2-.2 .3 .3 .6 .1 .5-.2 .4-.6 .9 1.3 .5-.3 .6 .1 .1-.3 .6 .1 .2-.3 .5 .4 .5-.3 .4-.9 .5 0 .4 .4 .4-.3 .9 .9 .9-.5 .7 .6 .7-.4 1.3 .2 .9-.2 .9 .5 1.2-.6 .6 .1 .9-.5 .3 .4 .4-.4 1.1 .7 .7-.7 .9 .7 .7-.7 1.1 .2 .7-.7 .4 .2 .7-.2 1.3-1 .7-1.3 .7-2.3 2-16 1.1 6.9 .7 2.9 .3 0 .6-.9 .2 .1 .5 1.7 .7 4.6 1.1 3.3 .7 1.5 .4-.2 .3 .6 .4-.2 .2 .6 .3-.3 .4 .8 .2-.4 1.2 .3 .2-.3 .9-.1 .4 .2 .5 1 .9-.3 .7 .1 .2-.4 .9 .1 .9-.5 .7 .5 .8-.3 .3 .4 .2-.3 .4 .5 .3-.1 .2 .4 .5-.3 1.1 .5 .2-.2 .4 .1 .7-.8 .5 0 .6-.4 .9 1.2 1.2-1 1.1 .5 .4-.5 1 .6 .9-.8 .2 .3 .4 0 .9 .7 1.2-.6 .4 .3 .5 0 1.1-.6 1.3 .9 .2-.3 .3 .3 .9-1 .8 .3 .1 .4 .6-.2 .3 .4 .9-.3 .6 .2 .2-.1 .5 .2 .9-.1 .4 .5 1.2-.6 .7 .4 .8-.2 .1-.3 .9 .1 .8-.4 .1 .3 .6-.1 .3-.3 .9 .5 .9-.7 .9 1.1 .6-.7 .5-.2 .2 .5 .7 .2 .6-.3 .1 .1 .4-.4 .5 .7 1.1-.8 1.1 .6 1.1-.4 1.6 .5 .5-.4 .6-.1 .7 .2 .4 .4 .1-.2 .4 .2 .4-.2 .1 .2 .2-.3 .6-.2 .3 .1 .4-.3 .7 .3 .2 .4 .5-.6 .4 0 .3 .5 .9-.8 .6 .6 .7 .3 .9-.7 .2 .4 1.4 .8 1.5-.9 .5 .3 .9-.4 .5 .3 .2-.3 .6 .6 .9-.9 .9 .6 .9-.4 .9 .3 .7-.5 .3 .4 .9-.5 .4 .4 .4-.1 .1 .3 .4-.2 .4 .4 .7-.2 .3-.5 .8 .5 .1-.2 .8 .1 .2 .4 .9-1 .7 .4 .2-.4 .1 .2 .2-.3 .9 1 1.1-.6 .4 .3 .9 0 .3 .5 .9-1 .6 .4 .7-.5 .9 .9 .2-.3 .1 .2 .8-.9 .9 .5 .9-.9 .7 .5 .9-1 .3 .1 .2-.4 .9 .6 .4-.1 .3-.5 1.3-.6 .5-.7 1.3-5 .4-2.7 1.8-23.6 1.6 16 .5 1.1 .9-3 .4 .5 1.2 10 1.1 3.7 .4 .4 1.1-.8 .7-2.3 .7-6.3 1.1-15.2 .3-2.1 .4 1.6 .9 11.1 .5 3.5 .4 .4 .9-2.9 .2 .1 .3 1.1 1.1 8.8 1.1 5 1.4 1.8 .6 .4 .9 .2 .7 .8 .7 .1 .2-.3 .4 .6 .5-.3 1.1 0 .3-.3 .4 .5 .2-.1 .9 .6 .2-.3 .5 .1 .5 .6 .4-.8 .7-.4 .2 .3 .2-.2 .5 .3 .2-.2 1.3 .7 .3-.4 .4 .1 .2-.2 .9 .5 .7-.2 .5 .3 .6-.5 .5 0 .4 .3 .3-.5 .2 .2 .4-.2 .2 .4 .3-.1 .2 .3 .2-.3 .3 .1 .4-.4 .2 .2 .3-.3 .4 .4 .2-.2 .9 .5 .9-.4 .5 .1 .4 .5 .2-.4 .7-.3 .2 .2 .5-.3 1.1 .6 .2-.4 .5 .4 .2-.4 .3 .2 .2-.3 .4 .3 .7-.6 .7 .5 .9-.1 .4 .3 1.2-.5 .2 .2 .4-.3 .3 .2 .2-.3 .4 .4 .5 .1 .6-.2 .5 .3 .2-.3 .3-.1 1.1 .7 1.8-.9 .6 .5 .1-.1 .2 .2 .7-.7 .9 .3 .4-.2 1.3 .6 .5-.4 .7-.1 .4-.3 .3 .2 .2-.1 .2 .4 .4 .2 .9-.5 1-.1 .6-.6 .7 .5 1.3-1 .9-1.7 1.8-9.4 .1-.5 .4-.2 1.1 4.5 .5 1.4 .2 .3 1.6-.2 2 5.4 .4 .4 .3 0 .9 1.4 .4-.3 .7 .2 .2 .7 .2-.2 .3 .2 .4-.3 .4 .2 .1-.5 .2 .1 .6-.5 .9 .3 .9-.2 .5 .2 .2-.1 .2 .3 .9-.2 .9 .9 .1-.3 1.3-.1 .7 .4 .6-.3 .9 .5 .3-.5 .6-.2 .3 .2 1.3-.4 .2 .3 .1-.1 .6 .4 .5-.5 .2 .2 .9-.4 .9 .6 .2-.1 .2 .2 .5-.6 .4-.1 .7 .9 .2-.2 .7-.3 .3 .2 .2-.3 .4 .4 .3-.3 .2 .4 .4-.4 .3 .3 .9-1 .6 .6 1.1-.5 .3 .4 .2-.1 .9 .4"/>
</g>
<g clip-path="url(#cb)" fill="none" stroke-width="3.4" stroke-linejoin="round">
<path stroke="#e5c479" d="M1228.1 554.1l2.5 .7 6 .2 2.5-.7 2 .4 2.5-.1 2 .5 2.5-.7 2-.2 2 .2 2.5-.2 2 .4 2.5-.4 4 .5 2.5-.4 4-.1 2.5 .3 2-.6 2.5 1 2-.6 2-.2 2.5 .9 2-.6 2.5 .3 2 0 4.5-.6 2 .2 2.5-.1 2 .4 2.5-.5 4 .1 2.5-.2 2 .9 2.5-1 2 .1 4.5 .7 2-1 2.5 .4 2-.4 4.5 0 2-.6 2.5-.2 2-.8 4.5-.1 4.5-.8 6.5-2 2-1.3 2.5-.6 2-1.1 2-.3 2.5-2.5 2-1.2 1.5-1.3 1.5-1.7 2-3 1.5-2.7 1-2.6 1-3.8 1.5-7.8 1-6.3 1-9 1.5-19.7 2-43.1 4-117.7 1.5-28.5 .5-6.3 .5-2.9 .5 2.3 .5 8 5 104.3 .5 4.6 .5-.5 1-3.7 1-6 .5-1.8 .5 .7 .5 2.9 2.5 26.3 4.5 59.1 2.5 24.1 1.5 10.6 1.5 8.1 3 12.4 1 2.8 1.5 1.7 2.5 3.5 2 1.1 2.5 2 4 2.1 2.5 .9 2-.5 6.5 .7 2.5 1.3 2-.4 2-.1 2.5 .4 2-.8 2.5 .7 2-.8 2.5 .9 6.5-.2 2 1 2.5-.4 2 .8 2.5-1.1 2 .2 2 .9 2.5-.6 2 .2 2.5-.4 4 .5 2.5-.2 4 .7 2.5-.5 4.5 .5 2 0 2-.3 2.5 .5 2 0 2.5-.8 4 .8 2.5-.6 8.5 .6 2.5 .7 2-.6 4.5-.3 2.5 .8 2-.1 2-.6 2.5 .3 2-.5 2 1.3 .5 0 2-.8 2 .2 2.5-.4 2.5 .3"/>
<path stroke="#b46a24" d="M1228.1 664.7l4.5-.5 4 .3 2.5-1 2.5 .7 8.5-.6 4.5 .4 4.5-.8 4.5 .5 2-.2 2.5-.7 2 .2 2 .7 6.5-.8 4.5 .6 2.5-.5 4 .2 4.5-.3 2 .3 2.5-1 2.5 .2 4-.4 4.5 .8 2-.7 4.5 .4 2-.8 2.5 .2 2-.4 2.5 .3 2-.9 6.5-1.6 2.5-1.8 2-1.1 3-2.8 3.5-5.1 1.5-3.1 1-2.8 2-7.5 2.5-12.6 1.5-10.9 2.5-27 5.5-80.4 4.5-56.8 1.5-12.9 1.5-8.4 1.5-4.3 1-1.6 .5-.2 1 1.2 3 6.2 1 3.1 1 4.9 8 63.6 9 75.6 2 13.5 3 15.4 4.5 16.9 9 16.8 6 8.9 6 6.7 5.5 5 2.5 .6 6 2.4 2.5 0 4.5 1.5 2-.5 2 .8 2.5-.4 2 .3 2.5-.3 2 .2 2 .5 2.5-.5 4.5 .6 4-.5 2.5 .8 2-.2 2 .3 2.5-.8 2 0 2.5 .6 2-.1 2.5 .7 2 .2 2.5-.6 2 .3 4.5 .1 2 .3 2-.6 2.5 .5 2-.4 2 0 2.5 .5 4.5-.1 4 .4 2.5 0 2.5-.8 2 .4 4 .1 2.5 .4 2-.3 2.5 .4 2-.4 2.5 .8 2-1 2.5 .5 4-.1 2.5 .3 2.5-.2"/>
<path stroke="#ea6502" d="M1228.1 444.9l2.5-.8 4 .6 2.5 .7 2-.5 4.5-.1 4.5-.4 4-.1 2.5 .7 2.5-.5 8.5-.4 2 .6 2.5-.6 4 0 2.5-.6 4.5 .2 4-.4 2.5 .8 2-.9 2.5 .6 2-.7 2 .3 2.5-.3 4 .2 2.5-.6 2 .5 2.5 .3 4.5-.3 2-.4 2 .3 2.5-.3 2 .4 2.5-1.5 2 .5 4.5-.7 2-.8 2.5 .2 2.5-.2 4-.8 2-1.4 2.5 .1 1.5-.4 3-1.1 4-2.3 1.5-1.4 3-3.6 4.5-9.8 2.5-9.5 3-15.3 1.5-10.8 1-10.1 3.5-50.9 2-24.6 .5-4 1.5-7.1 1-3.7 1-1.8 .5 .3 .5 1.5 2 12.6 2.5 11.8 1 2.7 2.5 4.5 1 3.1 1 4.4 4 23.5 9 60.8 2 8 2 6.3 2 4.7 3 4.9 2.5 1.4 4 3.2 10 4.3 3 .9 2.5-.3 6.5 1.8 2.5-.7 6 .5 7-.2 2 1.1 .5-.1 2-1.2 2 .5 6.5 .2 2.5 .4 2-.1 2.5-.8 2 1 2.5 .4 2-.1 2-.9 2.5 1.2 4-.6 2.5 .7 2-.3 4.5 .3 2-.6 2.5 .5 2-.3 2 .8 .5 0 2-1.4 2.5 1 2 0 6.5 .7 2-.5 2.5 .3 2-.4 4.5 .9 2-.8 2-.1 5 .8 2-.2 2.5-.6 2 .1 4 1.1 .5 0 2-.9 .5 0"/>
<path stroke="#7fcebf" d="M1228.1 333.1l4.5 .7 4.5-1.2 2 .5 2.5-.1 2 .5 2 0 2.5-.5 2 .1 2.5 .6 4-.5 2.5-.6 2 .6 4.5-.1 4-1 .5 .1 2 1.1 2 .5 2.5-1.5 2.5 .6 6 0 2.5-.3 2 .3 2.5-.9 4 .8 2.5-1 2 .5 2.5-.5 2 .5 4.5-.9 2 .7 2.5-1 2 .5 2-.1 9-.8 2.5-.6 2-.1 2 .2 2.5-.7 2 .3 4.5-1.6 2-.2 2.5-1.1 2-.3 2-1.2 2.5-.7 1-.5 1-.5 1-1 2.5-3 2-3.2 1.5-2.9 2-4.8 2.5-9.2 2.5-12.5 1.5-9.9 1.5-13.9 3.5-51 2-24.5 .5-4.2 1.5-7.8 1-3.3 .5-1 .5-.4 .5 .2 .5 1.6 2 12.6 2 9.5 1 3.2 2.5 4.9 1 2.7 2.5 11.6 2.5 14.6 9.5 64.2 2 7.9 2.5 8.1 1.5 3.1 3 4.4 2 1.3 2.5 2.7 4 2.2 2.5 .6 2 1.6 1 .4 1.5 .5 2-.2 2.5 1.2 4-.1 2.5 .6 4 .1 2.5-.4 2 0 6.5 .8 2.5-.3 2 .3 2.5 .8 4.5-.3 2-.5 2 .5 7 .4 2 .3 2 0 2.5-.3 4.5 .5 2-.5 2.5 .8 2 .4 2-.8 2.5 .5 2-1 2 1.1 .5 0 2-.5 4-.2 4.5 .3 2.5 .7 2 0 2.5-.6 4-.1 2.5 .6 4 .3 4.5-.9 4.5 1 2.5-.5 4 .9 2.5-.4 7 0"/>
<path stroke="#0b8a76" d="M1228.1 224.4l2-.8 2.5 .4 6.5-.4 2 .3 2.5-.4 4-.1 2.5 .2 2-.3 4.5-.1 4.5 .9 2-1.2 2.5 .4 4 0 2.5-.8 2.5 .9 2 0 2.5-.6 2 .1 2 .8 2.5-.1 4-1 2.5 0 2 .3 2-.2 2.5-.6 2 .5 2 .1 2.5-.6 2 .4 2 0 2.5-.4 2.5 .2 4-.5 2.5 .2 8.5-1.3 2.5-.7 2.5 .4 2-.4 2-.9 2-.4 4.5-.1 2.5-1.2 2 .1 2-1.4 2.5-.9 4-3.1 1.5-2 3-4.9 2.5-6.1 2.5-9.3 3-15.3 1.5-11 1-10.2 3.5-50.8 2-24.2 .5-4 1.5-7.3 1-3.5 1-1.6 .5 .1 .5 1.5 2 12.2 2.5 11.7 1 2.9 3 6.5 2 8.4 3.5 20.3 8 55 1.5 7.9 2.5 9.6 2 5.9 2 3.4 4 4.6 4.5 3.3 4.5 1.4 2.5 1.8 2 .2 4 1.1 4.5 .8 2.5-.3 2 .7 2.5-.4 2 .9 2-1 .5 0 2 .6 2 .3 4.5-.3 6.5 .7 7 .5 4-.2 2.5 .7 2-.1 2-.5 2.5-.1 4 .8 2.5-1.1 2.5 1.1 2-.2 4.5 .5 2-.5 2 .3 2.5-.3 2 .4 2.5-.4 6.5 .9 2-.2 2 .3 2.5-.5 2 .9 4.5-.9 2 0 2.5 .9 2 0 4.5-.7 2.5 0 4 .9 2.5-.8 2.5 .7 2-.2 2-.5 .5 .1"/>
</g>
<g clip-path="url(#cc)" fill="none" stroke-width="3.4" stroke-linejoin="round">
<path stroke="#b46a24" d="M1707.6 665.1l6.5-.7 2.5 1.4 2-.6 2 .1 2.5-.7 2 .3 4.5-.7 2 .2 4.5-.4 4.5 .5 2 0 4.5-.4 2-.4 2.5 .8 2-.5 7-.2 2-.4 2 .4 2.5-.6 4-.3 2.5 .3 13-.9 2.5 .1 4-.7 2.5 .9 2-.7 2.5 .3 2-.8 4.5 .7 2 .6 2.5-1.8 2-1.2 2.5 0 2-.3 2-.7 2-.2 .5-.2 1-1.1 3.5-4.5 2.5-4.4 1.5-3.5 1.5-5.4 3-15 3-12.7 1.5-3.7 1-1.4 .5-.1 1.5 1.3 1.5 2.4 1.5 3.6 2.5 .4 .5 .7 2.5 10 .5 .9 .5-.1 .5-.5 1.5-2.7 1-.9 2.5 1 1 0 1.5-3.9 .5 0 1.5 2.2 5 10.9 2 3.3 1.5 1.5 1 0 2.5-2.1 1-.1 1 1 2 3 1 .5 1-1.7 2.5-6.6 3-4.7 .5-.4 1.5-.2 2.5 .6 1.5-.1 1.5-1.3 4.5-5.1 1-.3 1.5 .1 2 .6 2.5 1.4 1 1.7 1.5 3.6 1 1.6 .5 .2 1-.2 2.5-2.3 1 .6 3.5 4.1 4.5 7.5 2.5 2.2 4 2.2 8 8.7 1.5 .7 4 .7 3.5 1.1 2.5 .9 2.5 1.6 2 .1 2.5-.2 4 .6 2.5 .1 4 1.3 2.5 1.2 2 .5 2.5-.1 6.5 .4 2.5-.4 4 .9 2.5-.8 2 .7 2.5 1.3 2-.2 2 .5 2.5 .1 2 .9 2 .3 2.5 0 2 .3 9-.5 2 .6 2.5-.1 2.5 .6 4-.3 4.5 .1 2-.6 2.5 .9 2-.1 2.5 .5"/>
<path stroke="#e5c479" d="M1707.6 555.3l2-.2 2.5-1 2 .9 4.5-.5 2.5 .5 2-.4 4 .8 2.5-.9 2.5 .5 4 0 4.5-1.1 2 1.3 .5 0 2-.7 6.5-.2 2 .5 2.5 .2 4.5-.4 2 .2 2-.6 2.5 .8 4-.9 2.5 .6 2-.3 2.5 .9 2-.6 4.5 .5 2.5-1 2 .1 2 .7 2.5-.5 4 .2 7-.4 6 0 2.5-1 2.5 .1 2-.4 2 .3 2.5-.1 2 .2 2.5-1.1 6.5-.4 4.5-1 4-1.9 2.5-2 4-5 2-4.1 1.5-3.7 1.5-5.2 1.5-7.1 3.5-20.2 .5-2 .5-.8 .5 .4 .5 1.2 1.5 6.2 2 16.6 .5 2.5 1.5 4.1 1 1.8 2.5 2.4 1 .4 .5-.1 1-1.3 3-5.5 2-4.9 1-1.9 1-.8 .5 .1 1 1.6 2 4.9 3 12 2.5 6.1 1 1.1 2 .5 5 3 3.5-.3 4.5-1.9 2-.3 2-1.3 .5-1 1-3.5 5-21.2 2.5-5.3 1-1.1 1-.3 1 .7 .5 .8 3 7.9 5.5 10.9 1 1.6 1 .4 1-.5 2.5-2.7 2.5-3.8 1-.7 1 .1 1 1 3 4.6 3 8.3 3.5 5.3 .5 .6 2.5 .7 2 1.5 2 .7 2.5 1.9 2 .3 4.5-.8 4.5 1.5 8.5-.3 2.5 .6 4-.4 2.5 .8 2-.2 9 .4 2-.4 2.5 .9 6.5-.8 2 .7 2.5-.7 2 .8 2-.5 2.5 .6 2-.3 2.5 .5 4-1.4 2.5 1.3 2-.6 7 .5"/>
<path stroke="#ea6502" d="M1707.6 444.3l2 0 2.5 .5 4 .1 2.5-.6 4.5 0 2 .2 2 .7 .5 0 2-1.3 2 .2 2.5 .9 4.5-.7 4 .9 2.5-.9 4.5 .5 6.5-.7 2 .7 2 .1 4.5-.9 2.5 .7 2-.5 2-.3 2.5 1.1 8.5-.3 2.5 .6 2-.2 2.5-.8 2 0 2.5 .6 4-.1 4.5-1 4.5-.1 2.5-.7 2.5-.2 1.5 0 4.5 .8 3-.2 5.5-2.2 7-2.2 1.5-1 1-1.1 8.5-16.9 3-7.6 1.5-2.4 1-.6 1 .4 .5 .6 2.5 3.6 3 6.8 1 1.5 .5 .3 1.5 0 2 1 1.5-.7 3-2.2 1.5-.2 1.5 .4 3.5 2.6 2.5 6.5 .5 .8 1.5 1.2 2 2.5 2.5 .1 2 .6 1 0 2 1.3 3.5 1.3 1-.2 1-.7 2.5-2.4 3.5-2.5 2-2.1 1.5-2.6 2.5-8.7 .5-.6 3.5-1.2 .5-.7 2-5.1 .5-.5 .5 .4 1.5 4 1 1.8 2.5 2.8 2 3.4 1.5 1.5 2 1.1 2.5-1.3 3 .1 2 1.6 2.5 .2 3.5 2.1 1 .8 4 5.8 1.5 1.3 5.5 3.4 4 2.1 1.5 .5 1.5 .3 4 .3 2 .6 2-.7 2.5-.3 2 .7 4.5 .4 2 .5 2.5-.4 2 .7 2 .4 2.5-.2 4.5 .4 4.5-.9 2 .8 2 .1 2.5-.6 2 1 2.5-.6 2 .2 4-.5 2.5 .3 2.5-.1 2 .5 2 .1 2.5-1.2 2 1.1 2.5-.6 2 1.2 2.5-.9 2 .2 2-.2 2.5 .3 2-.3 2.5 .1"/>
<path stroke="#7fcebf" d="M1707.6 333.5l2.5-.5 8.5 .2 2-.5 2.5 .5 2-.4 2 .1 2.5 .6 2-.7 2.5-.2 4.5 .6 4-.3 2.5 .6 2 0 2.5-1.2 2 .5 2-.3 2.5 .5 2 0 2 .3 .5 0 2-1.1 6.5 1.1 9-.1 4-.5 2.5 .9 2.5-.7 2 0 2 .6 2.5-.1 2-.5 2 .5 2 .1 2.5-.5 4.5-.1 2.5-1.1 2 .2 2-.4 2.5 .2 2-.2 3 .6 1.5-.1 2-1.3 2.5-.8 2-.9 2-1.4 2.5-.5 1-.4 1.5-1.2 1-1.9 3-7.3 4.5-7.9 3.5-8.7 1-1.5 1-.5 1.5 1 2.5 3.3 1.5 3.3 1.5 4.1 1 1.8 .5 .3 3.5-.2 4.5-1.9 1.5 0 2 .4 1 .6 2 2.1 1 1.9 2 5 1.5 2.1 2 .6 2 1.2 2.5-.1 1 .4 2 1.6 1.5 .2 2 .6 1 .1 1-.4 2.5-3 3.5-2.6 2.5-2.6 1-1.8 2.5-8.7 .5-.5 2.5-.6 1-.4 .5-.9 1.5-4.3 .5-1 .5-.3 .5 .6 2 4.8 3 3.6 2 3.5 1.5 1.5 1 .5 1 .1 1.5-1.3 1-.3 3 .5 2 .8 2.5 1.7 2 .3 2.5 1.9 4 5.9 3.5 3 3.5 2.4 2 .4 5 1.8 1.5 .3 2.5-.1 4 .5 2.5-.4 4 .6 2.5-.1 4.5 .7 2-.1 4.5 1 6.5-.6 2.5 .8 2-.7 2 .3 2.5-.1 4 .5 2.5-.2 4.5 .2 2-.9 2.5 .5 2-.1 2-.7 4.5 1.3 2 .2 2.5-1.1 4.5 .8 2-.2 2.5 .5 2-.4 2.5 0"/>
<path stroke="#0b8a76" d="M1707.6 223.4l2 .6 2.5 .3 2-.1 2.5-.5 4-.1 2.5 .3 4.5-.2 4.5-.7 2 .1 2 .6 6.5-.5 4.5 .7 2.5-.2 2 .2 4.5-.9 2 .5 2.5-.3 2 .7 2-.1 2.5 .3 4-.9 2.5-.2 6.5 .8 4.5 .1 2-.6 2.5 .4 6.5-.5 4.5 .5 4-.8 2.5 .4 2-.4 2.5-1.2 2 .7 2 .1 5.5 0 2-.3 2-.7 6-3.6 2.5 .1 2-1.1 1-1.6 3-7.2 5-9.5 3-7.1 2-3 1-.4 .5 .1 2 3.3 1.5 1.8 3 6.8 1 1.5 1.5 .9 2 .1 2.5-1.9 1.5-.7 1.5-.3 1.5 .3 2 1.5 2 .8 3 7.5 1.5 1.9 2.5 1.3 5 1.7 2 1.6 1 .4 .5 .1 2-.7 1 .1 1-.3 2.5-2.6 2.5-1.6 2.5-2.3 1.5-2 .5-1 2.5-8.7 .5-.7 1-.5 2 .2 .5-.3 .5-1 1.5-4.7 .5-1 .5-.4 .5 .5 1.5 3.9 3 5.2 4 4.6 1 .6 1 .3 1-.5 1-1.1 .5-.3 1 0 2 .6 3 1.8 3.5 1.2 3 2.9 3 3.8 3 3 4 2.8 2.5 .5 2.5 1.8 4 .7 2.5-.2 2 .2 2-.4 2.5 .7 2-.1 2.5 .4 2-.1 2 .4 2.5-.4 2.5 .9 6 0 2.5-.3 2 1.2 2.5-.6 2 .6 4.5-.8 4 .3 4.5-.1 4.5 .5 2.5-.3 4.5 .4 2-.1 2-.4 2.5 .8 2-.5 2.5 .2 2-.4 9 .6"/>
</g>
<defs><clipPath id="c15"><rect x="60" y="680" width="90" height="40.1"/><rect x="89" y="718" width="4" height="10"/><rect x="101.5" y="680" width="40" height="50"/></clipPath></defs>
<text x="77.82" y="723.60" font-size="44.00" textLength="51.07" lengthAdjust="spacingAndGlyphs" clip-path="url(#c15)">15</text>
<text x="256.11" y="723.60" font-size="44.00" textLength="52.15" lengthAdjust="spacingAndGlyphs">25</text>
<text x="436.46" y="723.60" font-size="44.00" textLength="51.04" lengthAdjust="spacingAndGlyphs">35</text>
<text x="617.78" y="723.60" font-size="44.00" textLength="49.98" lengthAdjust="spacingAndGlyphs">45</text>
<text x="797.04" y="723.60" font-size="44.00" textLength="51.04" lengthAdjust="spacingAndGlyphs">55</text>
<text x="976.26" y="723.60" font-size="44.00" textLength="52.15" lengthAdjust="spacingAndGlyphs">65</text>
<text x="1202.88" y="723.40" font-size="44.00" textLength="51.04" lengthAdjust="spacingAndGlyphs">43</text>
<text x="1313.57" y="723.40" font-size="44.00" textLength="49.98" lengthAdjust="spacingAndGlyphs">44</text>
<text x="1423.21" y="723.40" font-size="44.00" textLength="51.04" lengthAdjust="spacingAndGlyphs">45</text>
<text x="1533.89" y="723.40" font-size="44.00" textLength="51.04" lengthAdjust="spacingAndGlyphs">46</text>
<text x="1681.81" y="723.40" font-size="44.00" textLength="52.15" lengthAdjust="spacingAndGlyphs">63</text>
<text x="1792.32" y="723.40" font-size="44.00" textLength="51.09" lengthAdjust="spacingAndGlyphs">64</text>
<text x="1902.76" y="723.40" font-size="44.00" textLength="52.13" lengthAdjust="spacingAndGlyphs">65</text>
<text x="2014.23" y="723.40" font-size="44.00" textLength="52.15" lengthAdjust="spacingAndGlyphs">66</text>
<text x="428.68" y="775.80" font-size="44.00" textLength="338.23" lengthAdjust="spacingAndGlyphs">2Theta (Degree)</text>
<text x="1223.28" y="775.10" font-size="44.00" textLength="340.04" lengthAdjust="spacingAndGlyphs">2Theta (Degree)</text>
<text x="1703.48" y="775.00" font-size="44.00" textLength="341.04" lengthAdjust="spacingAndGlyphs">2Theta (Degree)</text>
<text x="-1.91" y="58.60" font-size="63.00" textLength="73.22" lengthAdjust="spacingAndGlyphs" stroke="#000" stroke-width="1.0">(a)</text>
<text x="1131.86" y="58.60" font-size="63.00" textLength="73.45" lengthAdjust="spacingAndGlyphs" stroke="#000" stroke-width="1.0">(b)</text>
<text x="1599.34" y="58.60" font-size="63.00" textLength="65.09" lengthAdjust="spacingAndGlyphs" stroke="#000" stroke-width="1.0">(c)</text>
<text x="1324.61" y="44.60" font-size="49.50" textLength="76.93" lengthAdjust="spacingAndGlyphs">104</text>
<text x="1795.26" y="126.10" font-size="40.00" textLength="151.87" lengthAdjust="spacingAndGlyphs">108/110</text>
<text x="193.56" y="172.80" font-size="44.00" textLength="44.88" lengthAdjust="spacingAndGlyphs">Ni</text>
<text x="237.49" y="183.80" font-size="29.00" textLength="34.20" lengthAdjust="spacingAndGlyphs">50</text>
<text x="272.68" y="172.80" font-size="44.00" textLength="69.81" lengthAdjust="spacingAndGlyphs">Mn</text>
<text x="343.52" y="183.80" font-size="29.00" textLength="33.94" lengthAdjust="spacingAndGlyphs">40</text>
<text x="378.03" y="172.80" font-size="44.00" textLength="54.53" lengthAdjust="spacingAndGlyphs">Co</text>
<text x="431.86" y="183.80" font-size="29.00" textLength="34.07" lengthAdjust="spacingAndGlyphs">10</text>
<text x="193.56" y="292.80" font-size="44.00" textLength="44.88" lengthAdjust="spacingAndGlyphs">Ni</text>
<text x="237.49" y="303.80" font-size="29.00" textLength="34.20" lengthAdjust="spacingAndGlyphs">60</text>
<text x="272.68" y="292.80" font-size="44.00" textLength="69.81" lengthAdjust="spacingAndGlyphs">Mn</text>
<text x="342.50" y="303.80" font-size="29.00" textLength="35.00" lengthAdjust="spacingAndGlyphs">30</text>
<text x="378.03" y="292.80" font-size="44.00" textLength="54.53" lengthAdjust="spacingAndGlyphs">Co</text>
<text x="431.86" y="303.80" font-size="29.00" textLength="34.07" lengthAdjust="spacingAndGlyphs">10</text>
<text x="193.56" y="406.20" font-size="44.00" textLength="44.88" lengthAdjust="spacingAndGlyphs">Ni</text>
<text x="237.49" y="417.20" font-size="29.00" textLength="34.20" lengthAdjust="spacingAndGlyphs">55</text>
<text x="272.68" y="406.20" font-size="44.00" textLength="69.81" lengthAdjust="spacingAndGlyphs">Mn</text>
<text x="343.52" y="417.20" font-size="29.00" textLength="33.94" lengthAdjust="spacingAndGlyphs">40</text>
<text x="378.03" y="406.20" font-size="44.00" textLength="54.53" lengthAdjust="spacingAndGlyphs">Co</text>
<text x="431.90" y="417.20" font-size="29.00" textLength="32.97" lengthAdjust="spacingAndGlyphs">05</text>
<text x="193.56" y="518.90" font-size="44.00" textLength="44.88" lengthAdjust="spacingAndGlyphs">Ni</text>
<text x="237.49" y="529.90" font-size="29.00" textLength="34.20" lengthAdjust="spacingAndGlyphs">60</text>
<text x="272.68" y="518.90" font-size="44.00" textLength="69.81" lengthAdjust="spacingAndGlyphs">Mn</text>
<text x="342.50" y="529.90" font-size="29.00" textLength="35.00" lengthAdjust="spacingAndGlyphs">35</text>
<text x="378.03" y="518.90" font-size="44.00" textLength="54.53" lengthAdjust="spacingAndGlyphs">Co</text>
<text x="431.90" y="529.90" font-size="29.00" textLength="32.97" lengthAdjust="spacingAndGlyphs">05</text>
<text x="238.35" y="624.20" font-size="44.00" textLength="43.56" lengthAdjust="spacingAndGlyphs">Ni</text>
<text x="282.09" y="635.20" font-size="29.00" textLength="34.63" lengthAdjust="spacingAndGlyphs">60</text>
<text x="316.62" y="624.20" font-size="44.00" textLength="71.13" lengthAdjust="spacingAndGlyphs">Mn</text>
<text x="387.69" y="635.20" font-size="29.00" textLength="34.61" lengthAdjust="spacingAndGlyphs">40</text>
<text transform="translate(80.80 438.90) rotate(-90)" x="0" y="0" font-size="53.00" textLength="203.50" lengthAdjust="spacingAndGlyphs">Intensity</text>
</g>
</svg>
</body></html>
